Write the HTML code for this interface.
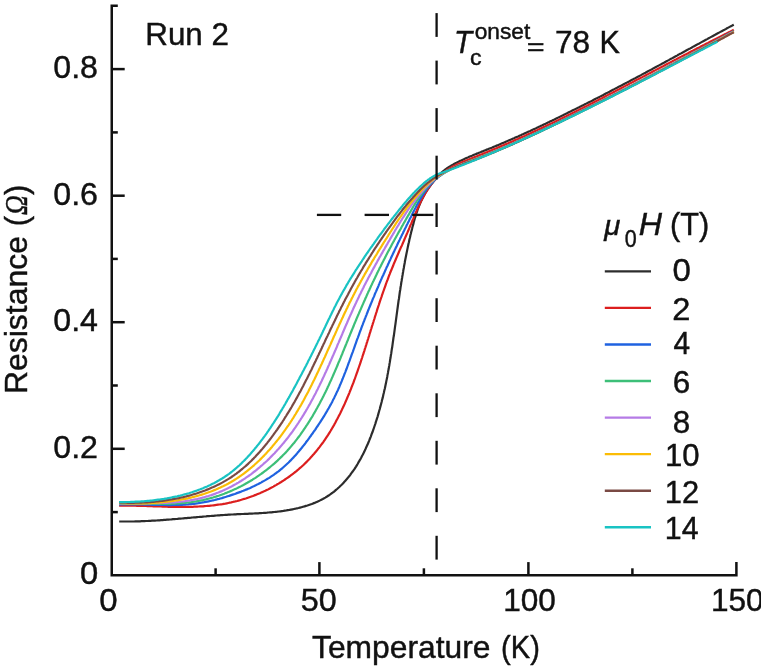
<!DOCTYPE html>
<html><head><meta charset="utf-8"><title>Resistance vs Temperature</title>
<style>
html,body{margin:0;padding:0;background:#fff;overflow:hidden}
svg{display:block}
text{font-family:"Liberation Sans","DejaVu Sans",sans-serif;fill:#111;stroke:#111;stroke-width:0.45px}
</style></head><body>
<svg width="761" height="668" viewBox="0 0 761 668">
<rect width="761" height="668" fill="#fff"/>
<g fill="none" stroke-width="2.2" stroke-linejoin="round" stroke-linecap="butt">
<path d="M119.2 521.5 L120.6 521.5 L122.1 521.5 L123.6 521.5 L125.1 521.5 L126.6 521.5 L128.1 521.5 L129.6 521.5 L131.0 521.5 L132.5 521.5 L134.0 521.5 L135.5 521.4 L137.0 521.4 L138.5 521.3 L140.0 521.3 L141.5 521.2 L143.0 521.2 L144.5 521.1 L146.0 521.0 L147.5 521.0 L149.0 520.9 L150.5 520.8 L152.0 520.7 L153.5 520.6 L155.0 520.6 L156.5 520.5 L158.0 520.4 L159.5 520.3 L161.0 520.2 L162.5 520.1 L164.0 519.9 L165.5 519.8 L167.0 519.7 L168.5 519.6 L170.0 519.5 L171.5 519.4 L173.0 519.2 L174.5 519.1 L176.0 519.0 L177.5 518.9 L179.0 518.7 L180.5 518.6 L182.0 518.5 L183.5 518.3 L185.0 518.2 L186.5 518.1 L188.0 517.9 L189.5 517.8 L191.0 517.7 L192.5 517.5 L194.0 517.4 L195.5 517.3 L197.0 517.1 L198.5 517.0 L200.0 516.9 L201.5 516.8 L203.0 516.6 L204.5 516.5 L206.0 516.4 L207.5 516.2 L209.0 516.1 L210.5 516.0 L212.0 515.9 L213.5 515.8 L215.0 515.6 L216.5 515.5 L217.9 515.4 L219.4 515.3 L220.9 515.2 L222.4 515.1 L223.9 515.0 L225.4 514.9 L226.9 514.8 L228.4 514.7 L229.9 514.6 L231.4 514.5 L232.9 514.5 L234.3 514.4 L235.8 514.3 L237.3 514.2 L238.8 514.2 L240.3 514.1 L241.8 514.0 L243.2 514.0 L244.7 513.9 L246.2 513.8 L247.7 513.8 L249.2 513.7 L250.7 513.6 L252.1 513.6 L253.6 513.5 L255.1 513.4 L256.6 513.3 L258.1 513.3 L259.6 513.2 L261.0 513.1 L262.5 513.0 L264.0 512.9 L265.5 512.8 L267.0 512.7 L268.5 512.5 L270.0 512.4 L271.5 512.3 L272.9 512.1 L274.4 512.0 L275.9 511.8 L277.4 511.7 L278.9 511.5 L280.4 511.3 L281.9 511.1 L283.4 510.9 L284.9 510.6 L286.4 510.4 L287.9 510.1 L289.4 509.9 L291.0 509.6 L292.5 509.3 L294.0 509.0 L295.5 508.7 L297.0 508.3 L298.5 508.0 L300.0 507.6 L301.5 507.2 L303.0 506.8 L304.5 506.4 L306.0 505.9 L307.4 505.5 L308.9 505.0 L310.3 504.5 L311.8 504.0 L313.2 503.4 L314.6 502.9 L316.0 502.3 L317.4 501.7 L318.8 501.1 L320.1 500.4 L321.4 499.7 L322.8 499.0 L324.1 498.3 L325.3 497.6 L326.6 496.8 L327.8 496.0 L329.1 495.2 L330.3 494.4 L331.4 493.5 L332.6 492.7 L333.8 491.8 L334.9 490.9 L336.0 489.9 L337.1 489.0 L338.2 488.0 L339.3 487.0 L340.3 486.0 L341.4 485.0 L342.4 484.0 L343.4 482.9 L344.4 481.8 L345.4 480.7 L346.4 479.6 L347.3 478.5 L348.2 477.4 L349.2 476.2 L350.1 475.1 L350.9 473.9 L351.8 472.7 L352.7 471.5 L353.5 470.3 L354.4 469.1 L355.2 467.8 L356.0 466.6 L356.8 465.3 L357.6 464.0 L358.3 462.7 L359.1 461.4 L359.8 460.1 L360.6 458.8 L361.3 457.5 L362.0 456.1 L362.7 454.8 L363.4 453.4 L364.1 452.1 L364.7 450.7 L365.4 449.3 L366.0 447.9 L366.6 446.5 L367.3 445.1 L367.9 443.7 L368.5 442.3 L369.1 440.9 L369.6 439.5 L370.2 438.0 L370.8 436.6 L371.3 435.2 L371.8 433.7 L372.4 432.3 L372.9 430.8 L373.4 429.4 L373.9 428.0 L374.4 426.5 L374.9 425.0 L375.4 423.6 L375.8 422.1 L376.3 420.7 L376.8 419.2 L377.2 417.8 L377.7 416.3 L378.1 414.9 L378.5 413.4 L378.9 412.0 L379.3 410.5 L379.8 409.0 L380.1 407.6 L380.5 406.1 L380.9 404.7 L381.3 403.2 L381.7 401.8 L382.0 400.3 L382.4 398.9 L382.8 397.4 L383.1 396.0 L383.4 394.5 L383.8 393.0 L384.1 391.6 L384.4 390.1 L384.8 388.7 L385.1 387.2 L385.4 385.8 L385.7 384.3 L386.0 382.9 L386.3 381.4 L386.6 379.9 L386.9 378.5 L387.2 377.0 L387.4 375.6 L387.7 374.1 L388.0 372.7 L388.2 371.2 L388.5 369.7 L388.8 368.3 L389.0 366.8 L389.3 365.4 L389.5 363.9 L389.8 362.4 L390.0 361.0 L390.2 359.5 L390.5 358.1 L390.7 356.6 L390.9 355.1 L391.2 353.7 L391.4 352.2 L391.6 350.7 L391.8 349.3 L392.1 347.8 L392.3 346.3 L392.5 344.9 L392.7 343.4 L392.9 341.9 L393.1 340.5 L393.3 339.0 L393.5 337.5 L393.8 336.1 L394.0 334.6 L394.2 333.1 L394.4 331.6 L394.6 330.2 L394.8 328.7 L395.0 327.2 L395.2 325.7 L395.4 324.3 L395.6 322.8 L395.8 321.3 L396.0 319.8 L396.2 318.3 L396.4 316.9 L396.6 315.4 L396.8 313.9 L397.0 312.4 L397.2 310.9 L397.4 309.4 L397.6 308.0 L397.8 306.5 L398.0 305.0 L398.2 303.5 L398.4 302.0 L398.6 300.5 L398.9 299.0 L399.1 297.5 L399.3 296.0 L399.5 294.5 L399.7 293.0 L399.9 291.5 L400.2 290.0 L400.4 288.5 L400.6 287.0 L400.9 285.5 L401.1 284.0 L401.3 282.5 L401.6 281.0 L401.8 279.5 L402.1 278.0 L402.3 276.5 L402.6 275.0 L402.8 273.5 L403.1 272.0 L403.3 270.5 L403.6 269.0 L403.9 267.5 L404.1 266.0 L404.4 264.5 L404.7 263.0 L404.9 261.5 L405.2 260.0 L405.5 258.5 L405.8 257.0 L406.1 255.5 L406.4 254.0 L406.7 252.6 L407.0 251.1 L407.3 249.6 L407.6 248.1 L407.9 246.6 L408.2 245.2 L408.5 243.7 L408.9 242.2 L409.2 240.8 L409.5 239.3 L409.9 237.8 L410.2 236.4 L410.5 234.9 L410.9 233.5 L411.2 232.0 L411.6 230.6 L412.0 229.1 L412.3 227.7 L412.7 226.3 L413.1 224.9 L413.5 223.4 L413.8 222.0 L414.2 220.6 L414.6 219.2 L415.0 217.8 L415.5 216.4 L415.9 215.0 L416.3 213.6 L416.8 212.2 L417.3 210.8 L417.7 209.5 L418.2 208.1 L418.8 206.7 L419.3 205.4 L419.9 204.0 L420.4 202.7 L421.0 201.3 L421.7 200.0 L422.3 198.7 L423.0 197.4 L423.7 196.1 L424.4 194.7 L425.1 193.4 L425.9 192.1 L426.7 190.9 L427.5 189.6 L428.4 188.3 L429.3 187.0 L430.2 185.8 L431.1 184.5 L432.0 183.3 L433.0 182.1 L433.9 180.9 L434.9 179.7 L436.0 178.5 L437.0 177.3 L438.0 176.2 L439.1 175.1 L440.2 174.0 L441.3 172.9 L442.4 171.9 L443.6 170.9 L444.7 170.0 L445.9 169.1 L447.1 168.2 L448.3 167.4 L449.5 166.6 L450.7 165.9 L452.0 165.1 L453.3 164.4 L454.5 163.7 L455.8 163.1 L457.1 162.4 L458.4 161.8 L459.7 161.1 L461.1 160.5 L462.4 159.9 L463.8 159.3 L465.1 158.6 L466.5 158.0 L467.9 157.4 L469.2 156.8 L470.6 156.2 L472.0 155.7 L473.4 155.1 L474.8 154.5 L476.2 153.9 L477.6 153.4 L479.0 152.8 L480.5 152.2 L481.9 151.6 L483.3 151.1 L484.7 150.5 L486.1 149.9 L487.5 149.4 L488.9 148.8 L490.4 148.2 L491.8 147.7 L493.2 147.1 L494.6 146.5 L496.0 145.9 L497.4 145.4 L498.8 144.8 L500.1 144.2 L501.5 143.6 L502.9 143.0 L504.3 142.4 L505.7 141.8 L507.1 141.2 L508.5 140.6 L509.8 140.0 L511.2 139.4 L512.6 138.8 L514.0 138.2 L515.3 137.6 L516.7 137.0 L518.1 136.4 L519.4 135.8 L520.8 135.2 L522.1 134.6 L523.5 134.0 L524.9 133.3 L526.2 132.7 L527.6 132.1 L528.9 131.5 L530.3 130.9 L531.6 130.2 L533.0 129.6 L534.3 129.0 L535.7 128.4 L537.0 127.7 L538.4 127.1 L539.7 126.5 L541.1 125.8 L542.4 125.2 L543.8 124.5 L545.1 123.9 L546.5 123.3 L547.8 122.6 L549.1 122.0 L550.5 121.3 L551.8 120.7 L553.2 120.0 L554.5 119.4 L555.8 118.7 L557.2 118.1 L558.5 117.4 L559.9 116.8 L561.2 116.1 L562.6 115.5 L563.9 114.8 L565.2 114.1 L566.6 113.5 L567.9 112.8 L569.3 112.1 L570.6 111.5 L571.9 110.8 L573.3 110.1 L574.6 109.5 L576.0 108.8 L577.3 108.1 L578.7 107.5 L580.0 106.8 L581.3 106.1 L582.7 105.4 L584.0 104.8 L585.4 104.1 L586.7 103.4 L588.0 102.7 L589.4 102.0 L590.7 101.4 L592.1 100.7 L593.4 100.0 L594.7 99.3 L596.1 98.6 L597.4 97.9 L598.8 97.3 L600.1 96.6 L601.4 95.9 L602.8 95.2 L604.1 94.5 L605.4 93.8 L606.8 93.1 L608.1 92.4 L609.5 91.7 L610.8 91.0 L612.1 90.3 L613.5 89.6 L614.8 88.9 L616.1 88.2 L617.5 87.5 L618.8 86.8 L620.1 86.1 L621.5 85.4 L622.8 84.7 L624.1 84.0 L625.5 83.3 L626.8 82.6 L628.1 81.9 L629.5 81.2 L630.8 80.5 L632.1 79.8 L633.4 79.1 L634.8 78.4 L636.1 77.7 L637.4 77.0 L638.8 76.3 L640.1 75.6 L641.4 74.9 L642.7 74.1 L644.0 73.4 L645.4 72.7 L646.7 72.0 L648.0 71.3 L649.3 70.6 L650.7 69.9 L652.0 69.2 L653.3 68.4 L654.6 67.7 L655.9 67.0 L657.3 66.3 L658.6 65.6 L659.9 64.9 L661.2 64.2 L662.5 63.4 L663.9 62.7 L665.2 62.0 L666.5 61.3 L667.8 60.6 L669.1 59.9 L670.4 59.1 L671.8 58.4 L673.1 57.7 L674.4 57.0 L675.7 56.3 L677.0 55.6 L678.3 54.8 L679.6 54.1 L681.0 53.4 L682.3 52.7 L683.6 52.0 L684.9 51.3 L686.2 50.5 L687.5 49.8 L688.8 49.1 L690.2 48.4 L691.5 47.7 L692.8 46.9 L694.1 46.2 L695.4 45.5 L696.7 44.8 L698.0 44.1 L699.4 43.4 L700.7 42.6 L702.0 41.9 L703.3 41.2 L704.6 40.5 L705.9 39.8 L707.2 39.1 L708.6 38.3 L709.9 37.6 L711.2 36.9 L712.5 36.2 L713.8 35.5 L715.1 34.8 L716.5 34.0 L717.8 33.3 L719.1 32.6 L720.4 31.9 L721.7 31.2 L723.0 30.5 L724.4 29.8 L725.7 29.1 L727.0 28.3 L728.3 27.6 L729.6 26.9 L730.9 26.2 L732.3 25.5 L733.6 24.8 L733.8 24.7" stroke="#2c2c2c"/>
<path d="M119.1 505.6 L120.6 505.6 L122.1 505.6 L123.6 505.6 L125.1 505.6 L126.5 505.6 L128.0 505.6 L129.5 505.6 L131.0 505.6 L132.5 505.7 L134.0 505.7 L135.5 505.7 L137.0 505.8 L138.5 505.8 L140.0 505.9 L141.5 505.9 L143.0 505.9 L144.5 506.0 L146.0 506.0 L147.5 506.1 L149.0 506.1 L150.5 506.2 L152.0 506.2 L153.5 506.3 L155.0 506.3 L156.5 506.4 L158.0 506.4 L159.5 506.5 L161.0 506.5 L162.5 506.6 L164.0 506.6 L165.5 506.7 L167.0 506.7 L168.6 506.8 L170.1 506.8 L171.6 506.8 L173.1 506.8 L174.6 506.9 L176.1 506.9 L177.6 506.9 L179.1 506.9 L180.6 506.9 L182.1 506.9 L183.6 506.9 L185.1 506.9 L186.6 506.9 L188.1 506.9 L189.6 506.8 L191.1 506.8 L192.7 506.8 L194.2 506.7 L195.7 506.7 L197.2 506.6 L198.7 506.5 L200.1 506.4 L201.6 506.4 L203.1 506.3 L204.6 506.1 L206.1 506.0 L207.6 505.9 L209.1 505.8 L210.6 505.6 L212.1 505.5 L213.6 505.3 L215.1 505.1 L216.5 504.9 L218.0 504.7 L219.5 504.5 L221.0 504.3 L222.5 504.1 L223.9 503.8 L225.4 503.6 L226.9 503.3 L228.3 503.0 L229.8 502.7 L231.3 502.4 L232.7 502.0 L234.2 501.7 L235.6 501.3 L237.1 501.0 L238.5 500.6 L240.0 500.2 L241.4 499.8 L242.9 499.3 L244.3 498.9 L245.8 498.5 L247.2 498.0 L248.6 497.5 L250.0 497.0 L251.4 496.5 L252.9 496.0 L254.3 495.4 L255.7 494.9 L257.1 494.3 L258.5 493.7 L259.9 493.2 L261.2 492.6 L262.6 491.9 L264.0 491.3 L265.3 490.7 L266.7 490.0 L268.1 489.4 L269.4 488.7 L270.7 488.0 L272.1 487.3 L273.4 486.6 L274.7 485.8 L276.0 485.1 L277.3 484.3 L278.6 483.6 L279.9 482.8 L281.2 482.0 L282.4 481.2 L283.7 480.4 L285.0 479.5 L286.2 478.7 L287.4 477.9 L288.7 477.0 L289.9 476.1 L291.1 475.2 L292.3 474.3 L293.5 473.4 L294.6 472.5 L295.8 471.6 L297.0 470.6 L298.1 469.7 L299.2 468.7 L300.4 467.7 L301.5 466.7 L302.6 465.7 L303.7 464.7 L304.7 463.7 L305.8 462.6 L306.9 461.6 L307.9 460.5 L308.9 459.5 L309.9 458.4 L310.9 457.3 L311.9 456.2 L312.9 455.1 L313.9 454.0 L314.9 452.8 L315.8 451.7 L316.8 450.6 L317.7 449.4 L318.6 448.2 L319.5 447.1 L320.4 445.9 L321.3 444.7 L322.2 443.5 L323.1 442.3 L323.9 441.1 L324.8 439.8 L325.6 438.6 L326.4 437.4 L327.3 436.1 L328.1 434.9 L328.9 433.6 L329.7 432.3 L330.5 431.0 L331.2 429.8 L332.0 428.5 L332.8 427.2 L333.5 425.9 L334.3 424.6 L335.0 423.3 L335.7 421.9 L336.4 420.6 L337.1 419.3 L337.8 417.9 L338.5 416.6 L339.2 415.2 L339.9 413.9 L340.6 412.5 L341.2 411.2 L341.9 409.8 L342.5 408.4 L343.2 407.1 L343.8 405.7 L344.5 404.3 L345.1 402.9 L345.7 401.5 L346.3 400.1 L346.9 398.7 L347.5 397.3 L348.1 395.9 L348.7 394.5 L349.3 393.1 L349.8 391.7 L350.4 390.3 L351.0 388.9 L351.5 387.4 L352.1 386.0 L352.6 384.6 L353.2 383.2 L353.7 381.8 L354.2 380.3 L354.8 378.9 L355.3 377.5 L355.8 376.0 L356.3 374.6 L356.8 373.2 L357.3 371.8 L357.8 370.3 L358.3 368.9 L358.8 367.5 L359.3 366.0 L359.8 364.6 L360.3 363.2 L360.8 361.7 L361.2 360.3 L361.7 358.9 L362.2 357.5 L362.6 356.0 L363.1 354.6 L363.6 353.2 L364.0 351.8 L364.5 350.3 L364.9 348.9 L365.4 347.5 L365.8 346.1 L366.3 344.6 L366.7 343.2 L367.2 341.8 L367.6 340.4 L368.1 339.0 L368.5 337.5 L369.0 336.1 L369.4 334.7 L369.8 333.3 L370.3 331.9 L370.7 330.4 L371.2 329.0 L371.6 327.6 L372.0 326.2 L372.5 324.8 L372.9 323.4 L373.4 322.0 L373.8 320.5 L374.3 319.1 L374.7 317.7 L375.1 316.3 L375.6 314.9 L376.0 313.5 L376.5 312.1 L376.9 310.7 L377.4 309.2 L377.8 307.8 L378.3 306.4 L378.8 305.0 L379.2 303.6 L379.7 302.2 L380.1 300.8 L380.6 299.4 L381.1 298.0 L381.6 296.6 L382.0 295.2 L382.5 293.8 L383.0 292.4 L383.5 291.0 L384.0 289.6 L384.5 288.2 L385.0 286.8 L385.5 285.3 L386.0 283.9 L386.5 282.5 L387.0 281.1 L387.6 279.7 L388.1 278.3 L388.6 276.9 L389.1 275.5 L389.7 274.1 L390.2 272.7 L390.8 271.3 L391.4 270.0 L391.9 268.6 L392.5 267.2 L393.1 265.8 L393.6 264.4 L394.2 263.0 L394.8 261.6 L395.4 260.2 L396.0 258.8 L396.6 257.4 L397.2 256.0 L397.8 254.6 L398.4 253.2 L399.0 251.8 L399.6 250.4 L400.2 249.0 L400.8 247.6 L401.5 246.2 L402.1 244.9 L402.7 243.5 L403.3 242.1 L403.9 240.7 L404.5 239.3 L405.1 237.9 L405.7 236.5 L406.3 235.1 L406.9 233.7 L407.5 232.4 L408.1 231.0 L408.7 229.6 L409.3 228.2 L409.8 226.8 L410.4 225.4 L411.0 224.1 L411.6 222.7 L412.2 221.3 L412.7 219.9 L413.3 218.6 L413.9 217.2 L414.4 215.8 L415.0 214.5 L415.6 213.1 L416.2 211.7 L416.8 210.4 L417.4 209.0 L417.9 207.7 L418.6 206.3 L419.2 205.0 L419.8 203.7 L420.4 202.3 L421.1 201.0 L421.8 199.7 L422.4 198.4 L423.1 197.1 L423.9 195.8 L424.6 194.4 L425.3 193.2 L426.1 191.9 L426.9 190.6 L427.7 189.3 L428.6 188.1 L429.4 186.8 L430.3 185.6 L431.2 184.4 L432.2 183.2 L433.1 182.1 L434.1 180.9 L435.1 179.8 L436.2 178.7 L437.2 177.7 L438.3 176.7 L439.4 175.7 L440.5 174.7 L441.7 173.8 L442.9 172.9 L444.1 172.0 L445.3 171.1 L446.5 170.3 L447.8 169.5 L449.0 168.7 L450.3 168.0 L451.6 167.2 L452.9 166.5 L454.3 165.8 L455.6 165.2 L456.9 164.5 L458.3 163.9 L459.7 163.3 L461.0 162.7 L462.4 162.1 L463.8 161.5 L465.2 160.9 L466.6 160.4 L468.0 159.8 L469.4 159.3 L470.8 158.7 L472.2 158.1 L473.5 157.6 L474.9 157.0 L476.3 156.5 L477.7 155.9 L479.1 155.3 L480.5 154.8 L481.9 154.2 L483.3 153.6 L484.7 153.1 L486.1 152.5 L487.5 151.9 L488.9 151.3 L490.3 150.8 L491.6 150.2 L493.0 149.6 L494.4 149.0 L495.8 148.5 L497.2 147.9 L498.6 147.3 L500.0 146.7 L501.3 146.1 L502.7 145.5 L504.1 144.9 L505.5 144.3 L506.9 143.7 L508.3 143.2 L509.6 142.6 L511.0 142.0 L512.4 141.4 L513.8 140.7 L515.1 140.1 L516.5 139.5 L517.9 138.9 L519.2 138.3 L520.6 137.7 L522.0 137.1 L523.4 136.5 L524.7 135.9 L526.1 135.2 L527.5 134.6 L528.8 134.0 L530.2 133.4 L531.5 132.7 L532.9 132.1 L534.3 131.5 L535.6 130.8 L537.0 130.2 L538.3 129.6 L539.7 128.9 L541.1 128.3 L542.4 127.7 L543.8 127.0 L545.1 126.4 L546.5 125.7 L547.8 125.1 L549.2 124.4 L550.5 123.8 L551.9 123.2 L553.2 122.5 L554.6 121.9 L555.9 121.2 L557.3 120.5 L558.6 119.9 L560.0 119.2 L561.3 118.6 L562.7 117.9 L564.0 117.3 L565.4 116.6 L566.7 115.9 L568.0 115.3 L569.4 114.6 L570.7 113.9 L572.1 113.3 L573.4 112.6 L574.7 111.9 L576.1 111.3 L577.4 110.6 L578.8 109.9 L580.1 109.2 L581.4 108.6 L582.8 107.9 L584.1 107.2 L585.4 106.5 L586.8 105.9 L588.1 105.2 L589.5 104.5 L590.8 103.8 L592.1 103.2 L593.5 102.5 L594.8 101.8 L596.1 101.1 L597.5 100.4 L598.8 99.7 L600.1 99.0 L601.5 98.4 L602.8 97.7 L604.1 97.0 L605.5 96.3 L606.8 95.6 L608.1 94.9 L609.4 94.2 L610.8 93.5 L612.1 92.9 L613.4 92.2 L614.8 91.5 L616.1 90.8 L617.4 90.1 L618.8 89.4 L620.1 88.7 L621.4 88.0 L622.8 87.3 L624.1 86.6 L625.4 85.9 L626.7 85.2 L628.1 84.5 L629.4 83.8 L630.7 83.1 L632.1 82.4 L633.4 81.7 L634.7 81.0 L636.0 80.3 L637.4 79.6 L638.7 78.9 L640.0 78.3 L641.4 77.6 L642.7 76.9 L644.0 76.2 L645.4 75.5 L646.7 74.8 L648.0 74.1 L649.3 73.4 L650.7 72.7 L652.0 72.0 L653.3 71.3 L654.7 70.6 L656.0 69.9 L657.3 69.2 L658.7 68.5 L660.0 67.8 L661.3 67.1 L662.7 66.4 L664.0 65.7 L665.3 65.0 L666.6 64.3 L668.0 63.6 L669.3 62.9 L670.6 62.2 L672.0 61.5 L673.3 60.8 L674.6 60.1 L676.0 59.4 L677.3 58.7 L678.6 58.0 L680.0 57.3 L681.3 56.6 L682.6 55.9 L684.0 55.2 L685.3 54.6 L686.6 53.9 L688.0 53.2 L689.3 52.5 L690.6 51.8 L692.0 51.1 L693.3 50.4 L694.6 49.7 L696.0 49.0 L697.3 48.3 L698.6 47.7 L700.0 47.0 L701.3 46.3 L702.6 45.6 L704.0 44.9 L705.3 44.2 L706.6 43.5 L708.0 42.9 L709.3 42.2 L710.6 41.5 L712.0 40.8 L713.3 40.1 L714.6 39.5 L716.0 38.8 L717.3 38.1 L718.6 37.4 L720.0 36.8 L721.3 36.1 L722.6 35.4 L724.0 34.7 L725.3 34.1 L726.6 33.4 L728.0 32.7 L729.3 32.1 L730.6 31.4 L732.0 30.7 L733.3 30.1 L733.8 29.8" stroke="#dc1e1e"/>
<path d="M119.1 504.6 L120.6 504.5 L122.1 504.5 L123.6 504.5 L125.1 504.4 L126.6 504.4 L128.1 504.4 L129.6 504.4 L131.1 504.4 L132.6 504.4 L134.1 504.4 L135.6 504.4 L137.1 504.4 L138.6 504.4 L140.1 504.5 L141.6 504.5 L143.1 504.5 L144.6 504.6 L146.1 504.6 L147.6 504.7 L149.1 504.7 L150.6 504.7 L152.1 504.8 L153.6 504.8 L155.1 504.9 L156.6 504.9 L158.1 504.9 L159.6 505.0 L161.1 505.0 L162.6 505.0 L164.1 505.0 L165.6 505.0 L167.1 505.1 L168.6 505.1 L170.1 505.1 L171.6 505.1 L173.1 505.0 L174.6 505.0 L176.1 505.0 L177.6 504.9 L179.1 504.9 L180.6 504.8 L182.1 504.8 L183.6 504.7 L185.1 504.6 L186.6 504.5 L188.1 504.4 L189.5 504.2 L191.0 504.1 L192.5 503.9 L194.0 503.8 L195.5 503.6 L197.0 503.4 L198.4 503.2 L199.9 502.9 L201.4 502.7 L202.9 502.4 L204.3 502.2 L205.8 501.9 L207.3 501.6 L208.7 501.3 L210.2 501.0 L211.7 500.7 L213.1 500.3 L214.6 500.0 L216.0 499.6 L217.5 499.2 L219.0 498.9 L220.4 498.5 L221.9 498.1 L223.3 497.6 L224.7 497.2 L226.2 496.8 L227.6 496.3 L229.1 495.9 L230.5 495.4 L231.9 494.9 L233.4 494.4 L234.8 494.0 L236.2 493.4 L237.6 492.9 L239.1 492.4 L240.5 491.9 L241.9 491.3 L243.3 490.8 L244.7 490.2 L246.1 489.6 L247.5 489.1 L248.9 488.5 L250.2 487.9 L251.6 487.2 L253.0 486.6 L254.3 486.0 L255.7 485.3 L257.0 484.6 L258.4 484.0 L259.7 483.3 L261.0 482.6 L262.3 481.8 L263.6 481.1 L264.9 480.4 L266.2 479.6 L267.5 478.8 L268.8 478.1 L270.0 477.3 L271.3 476.4 L272.5 475.6 L273.7 474.8 L274.9 473.9 L276.2 473.0 L277.3 472.2 L278.5 471.3 L279.7 470.3 L280.8 469.4 L282.0 468.5 L283.1 467.5 L284.2 466.5 L285.3 465.5 L286.4 464.5 L287.5 463.5 L288.6 462.5 L289.6 461.4 L290.7 460.4 L291.7 459.3 L292.7 458.2 L293.8 457.1 L294.8 456.0 L295.8 454.9 L296.8 453.8 L297.7 452.6 L298.7 451.5 L299.7 450.3 L300.6 449.2 L301.6 448.0 L302.5 446.8 L303.5 445.6 L304.4 444.5 L305.3 443.3 L306.2 442.0 L307.2 440.8 L308.1 439.6 L309.0 438.4 L309.8 437.2 L310.7 436.0 L311.6 434.7 L312.5 433.5 L313.4 432.2 L314.2 431.0 L315.1 429.8 L316.0 428.5 L316.8 427.2 L317.7 426.0 L318.5 424.7 L319.3 423.5 L320.2 422.2 L321.0 420.9 L321.8 419.6 L322.6 418.4 L323.4 417.1 L324.2 415.8 L325.0 414.5 L325.8 413.2 L326.5 411.9 L327.3 410.6 L328.0 409.3 L328.8 408.0 L329.5 406.7 L330.2 405.4 L331.0 404.1 L331.7 402.8 L332.4 401.4 L333.0 400.1 L333.7 398.8 L334.4 397.4 L335.0 396.1 L335.7 394.8 L336.3 393.4 L336.9 392.1 L337.6 390.7 L338.2 389.4 L338.8 388.0 L339.4 386.7 L339.9 385.3 L340.5 384.0 L341.1 382.6 L341.7 381.2 L342.2 379.8 L342.8 378.5 L343.3 377.1 L343.9 375.7 L344.4 374.3 L345.0 372.9 L345.5 371.6 L346.0 370.2 L346.6 368.8 L347.1 367.4 L347.6 366.0 L348.1 364.6 L348.6 363.2 L349.2 361.7 L349.7 360.3 L350.2 358.9 L350.7 357.5 L351.2 356.1 L351.7 354.7 L352.2 353.3 L352.8 351.8 L353.3 350.4 L353.8 349.0 L354.3 347.6 L354.8 346.1 L355.3 344.7 L355.8 343.3 L356.3 341.9 L356.8 340.4 L357.3 339.0 L357.9 337.6 L358.4 336.2 L358.9 334.8 L359.4 333.3 L359.9 331.9 L360.5 330.5 L361.0 329.1 L361.5 327.7 L362.0 326.3 L362.6 324.9 L363.1 323.5 L363.6 322.1 L364.2 320.7 L364.7 319.3 L365.3 317.9 L365.8 316.5 L366.4 315.1 L366.9 313.7 L367.5 312.3 L368.0 310.9 L368.6 309.5 L369.1 308.1 L369.7 306.7 L370.3 305.3 L370.8 304.0 L371.4 302.6 L372.0 301.2 L372.5 299.8 L373.1 298.4 L373.7 297.1 L374.3 295.7 L374.8 294.3 L375.4 292.9 L376.0 291.6 L376.6 290.2 L377.2 288.8 L377.8 287.5 L378.4 286.1 L378.9 284.7 L379.5 283.4 L380.1 282.0 L380.7 280.6 L381.3 279.3 L381.9 277.9 L382.5 276.5 L383.2 275.2 L383.8 273.8 L384.4 272.5 L385.0 271.1 L385.6 269.7 L386.2 268.4 L386.8 267.0 L387.5 265.7 L388.1 264.3 L388.7 263.0 L389.3 261.6 L390.0 260.2 L390.6 258.9 L391.2 257.5 L391.8 256.2 L392.5 254.8 L393.1 253.5 L393.8 252.1 L394.4 250.8 L395.0 249.4 L395.7 248.1 L396.3 246.7 L397.0 245.4 L397.6 244.0 L398.3 242.6 L398.9 241.3 L399.6 239.9 L400.2 238.6 L400.9 237.2 L401.5 235.9 L402.2 234.5 L402.9 233.2 L403.5 231.8 L404.2 230.5 L404.8 229.1 L405.5 227.8 L406.2 226.4 L406.8 225.0 L407.5 223.7 L408.2 222.3 L408.9 221.0 L409.5 219.6 L410.2 218.2 L410.9 216.9 L411.6 215.5 L412.2 214.2 L412.9 212.8 L413.6 211.4 L414.3 210.1 L415.0 208.7 L415.7 207.4 L416.4 206.0 L417.1 204.7 L417.8 203.4 L418.6 202.0 L419.3 200.7 L420.0 199.4 L420.8 198.1 L421.6 196.8 L422.4 195.5 L423.2 194.3 L424.0 193.0 L424.8 191.8 L425.7 190.6 L426.5 189.4 L427.4 188.2 L428.3 187.0 L429.3 185.9 L430.2 184.8 L431.2 183.7 L432.2 182.6 L433.2 181.6 L434.2 180.5 L435.3 179.5 L436.4 178.6 L437.5 177.6 L438.7 176.7 L439.9 175.8 L441.1 175.0 L442.3 174.1 L443.6 173.3 L444.8 172.5 L446.1 171.8 L447.4 171.0 L448.7 170.3 L450.1 169.6 L451.4 168.9 L452.7 168.3 L454.1 167.6 L455.5 167.0 L456.8 166.4 L458.2 165.8 L459.6 165.2 L461.0 164.7 L462.4 164.1 L463.8 163.6 L465.2 163.0 L466.6 162.5 L467.9 161.9 L469.3 161.4 L470.8 160.9 L472.2 160.3 L473.6 159.8 L475.0 159.2 L476.4 158.7 L477.8 158.1 L479.2 157.6 L480.6 157.0 L482.0 156.5 L483.4 155.9 L484.8 155.4 L486.2 154.8 L487.6 154.2 L489.0 153.7 L490.4 153.1 L491.8 152.5 L493.2 151.9 L494.6 151.4 L496.0 150.8 L497.4 150.2 L498.8 149.6 L500.2 149.0 L501.6 148.4 L502.9 147.8 L504.3 147.2 L505.7 146.6 L507.1 146.0 L508.4 145.4 L509.8 144.8 L511.2 144.2 L512.6 143.6 L513.9 143.0 L515.3 142.4 L516.7 141.8 L518.0 141.2 L519.4 140.6 L520.8 139.9 L522.1 139.3 L523.5 138.7 L524.8 138.1 L526.2 137.5 L527.6 136.8 L528.9 136.2 L530.3 135.6 L531.6 135.0 L533.0 134.3 L534.4 133.7 L535.7 133.1 L537.1 132.4 L538.4 131.8 L539.8 131.2 L541.1 130.5 L542.5 129.9 L543.8 129.2 L545.2 128.6 L546.5 128.0 L547.9 127.3 L549.2 126.7 L550.6 126.0 L551.9 125.4 L553.3 124.7 L554.7 124.1 L556.0 123.4 L557.4 122.8 L558.7 122.1 L560.0 121.5 L561.4 120.8 L562.7 120.2 L564.1 119.5 L565.4 118.9 L566.8 118.2 L568.1 117.6 L569.5 116.9 L570.8 116.2 L572.2 115.6 L573.5 114.9 L574.9 114.3 L576.2 113.6 L577.6 112.9 L578.9 112.3 L580.2 111.6 L581.6 110.9 L582.9 110.3 L584.3 109.6 L585.6 108.9 L587.0 108.3 L588.3 107.6 L589.6 106.9 L591.0 106.3 L592.3 105.6 L593.7 104.9 L595.0 104.2 L596.3 103.6 L597.7 102.9 L599.0 102.2 L600.4 101.5 L601.7 100.9 L603.0 100.2 L604.4 99.5 L605.7 98.8 L607.1 98.2 L608.4 97.5 L609.7 96.8 L611.1 96.1 L612.4 95.4 L613.7 94.7 L615.1 94.1 L616.4 93.4 L617.7 92.7 L619.1 92.0 L620.4 91.3 L621.7 90.6 L623.1 89.9 L624.4 89.3 L625.7 88.6 L627.1 87.9 L628.4 87.2 L629.7 86.5 L631.1 85.8 L632.4 85.1 L633.7 84.4 L635.1 83.7 L636.4 83.0 L637.7 82.3 L639.1 81.6 L640.4 80.9 L641.7 80.3 L643.1 79.6 L644.4 78.9 L645.7 78.2 L647.0 77.5 L648.4 76.8 L649.7 76.1 L651.0 75.4 L652.4 74.7 L653.7 74.0 L655.0 73.3 L656.3 72.6 L657.7 71.9 L659.0 71.2 L660.3 70.5 L661.7 69.8 L663.0 69.1 L664.3 68.4 L665.6 67.7 L667.0 67.0 L668.3 66.3 L669.6 65.5 L670.9 64.8 L672.3 64.1 L673.6 63.4 L674.9 62.7 L676.2 62.0 L677.6 61.3 L678.9 60.6 L680.2 59.9 L681.5 59.2 L682.9 58.5 L684.2 57.8 L685.5 57.1 L686.8 56.4 L688.1 55.7 L689.5 54.9 L690.8 54.2 L692.1 53.5 L693.4 52.8 L694.8 52.1 L696.1 51.4 L697.4 50.7 L698.7 50.0 L700.0 49.3 L701.4 48.6 L702.7 47.9 L704.0 47.1 L705.3 46.4 L706.6 45.7 L708.0 45.0 L709.3 44.3 L710.6 43.6 L711.9 42.9 L713.2 42.2 L714.6 41.5 L715.9 40.7 L717.2 40.0 L718.5 39.3 L719.8 38.6 L721.1 37.9 L722.5 37.2 L723.8 36.5 L725.1 35.8 L726.4 35.0 L727.7 34.3 L729.1 33.6 L730.4 32.9 L731.7 32.2 L733.0 31.5 L733.7 31.1" stroke="#1f62e0"/>
<path d="M119.1 504.1 L120.5 504.0 L122.0 504.0 L123.5 503.9 L125.0 503.9 L126.5 503.8 L128.0 503.8 L129.5 503.8 L131.0 503.8 L132.5 503.8 L134.0 503.8 L135.5 503.8 L137.0 503.8 L138.5 503.8 L140.0 503.8 L141.5 503.8 L143.0 503.8 L144.5 503.8 L146.0 503.8 L147.5 503.8 L149.0 503.9 L150.6 503.9 L152.1 503.9 L153.6 503.9 L155.1 503.9 L156.6 503.9 L158.1 503.9 L159.6 503.9 L161.1 503.9 L162.6 503.9 L164.2 503.9 L165.7 503.9 L167.2 503.8 L168.7 503.8 L170.2 503.8 L171.7 503.7 L173.2 503.7 L174.7 503.6 L176.2 503.5 L177.7 503.4 L179.2 503.3 L180.7 503.2 L182.2 503.1 L183.7 503.0 L185.2 502.9 L186.7 502.7 L188.1 502.5 L189.6 502.3 L191.1 502.2 L192.6 501.9 L194.1 501.7 L195.5 501.5 L197.0 501.2 L198.5 501.0 L200.0 500.7 L201.4 500.4 L202.9 500.1 L204.3 499.7 L205.8 499.4 L207.2 499.0 L208.7 498.7 L210.1 498.3 L211.6 497.9 L213.0 497.5 L214.4 497.0 L215.9 496.6 L217.3 496.1 L218.7 495.7 L220.1 495.2 L221.5 494.7 L222.9 494.2 L224.3 493.7 L225.7 493.1 L227.1 492.6 L228.5 492.0 L229.9 491.4 L231.3 490.9 L232.6 490.2 L234.0 489.6 L235.3 489.0 L236.7 488.4 L238.0 487.7 L239.4 487.0 L240.7 486.4 L242.0 485.7 L243.4 485.0 L244.7 484.3 L246.0 483.5 L247.3 482.8 L248.6 482.0 L249.9 481.3 L251.2 480.5 L252.5 479.7 L253.7 478.9 L255.0 478.1 L256.2 477.3 L257.5 476.4 L258.7 475.6 L260.0 474.7 L261.2 473.9 L262.4 473.0 L263.6 472.1 L264.8 471.2 L266.0 470.3 L267.2 469.4 L268.4 468.4 L269.6 467.5 L270.7 466.5 L271.9 465.5 L273.0 464.6 L274.2 463.6 L275.3 462.6 L276.4 461.6 L277.5 460.6 L278.6 459.5 L279.7 458.5 L280.8 457.4 L281.9 456.4 L282.9 455.3 L284.0 454.2 L285.0 453.2 L286.1 452.1 L287.1 451.0 L288.1 449.8 L289.1 448.7 L290.1 447.6 L291.1 446.4 L292.0 445.3 L293.0 444.1 L294.0 443.0 L294.9 441.8 L295.8 440.6 L296.8 439.4 L297.7 438.2 L298.6 437.0 L299.5 435.8 L300.4 434.6 L301.2 433.4 L302.1 432.1 L303.0 430.9 L303.8 429.7 L304.7 428.4 L305.5 427.2 L306.3 425.9 L307.2 424.7 L308.0 423.4 L308.8 422.1 L309.6 420.9 L310.3 419.6 L311.1 418.3 L311.9 417.1 L312.7 415.8 L313.4 414.5 L314.2 413.2 L314.9 411.9 L315.7 410.6 L316.4 409.3 L317.1 408.1 L317.8 406.8 L318.5 405.5 L319.3 404.1 L320.0 402.8 L320.6 401.5 L321.3 400.2 L322.0 398.9 L322.7 397.6 L323.4 396.2 L324.0 394.9 L324.7 393.6 L325.4 392.2 L326.0 390.9 L326.7 389.5 L327.3 388.2 L327.9 386.8 L328.6 385.5 L329.2 384.1 L329.8 382.7 L330.4 381.4 L331.1 380.0 L331.7 378.6 L332.3 377.3 L332.9 375.9 L333.5 374.5 L334.1 373.1 L334.7 371.8 L335.3 370.4 L335.9 369.0 L336.5 367.6 L337.1 366.2 L337.7 364.8 L338.2 363.4 L338.8 362.0 L339.4 360.7 L340.0 359.3 L340.6 357.9 L341.1 356.5 L341.7 355.1 L342.3 353.7 L342.8 352.3 L343.4 350.9 L344.0 349.5 L344.5 348.1 L345.1 346.7 L345.7 345.3 L346.3 343.9 L346.8 342.5 L347.4 341.1 L348.0 339.7 L348.5 338.3 L349.1 336.9 L349.7 335.5 L350.2 334.1 L350.8 332.7 L351.4 331.3 L351.9 330.0 L352.5 328.6 L353.1 327.2 L353.7 325.8 L354.2 324.4 L354.8 323.0 L355.4 321.6 L356.0 320.3 L356.5 318.9 L357.1 317.5 L357.7 316.1 L358.3 314.7 L358.9 313.4 L359.5 312.0 L360.1 310.6 L360.7 309.3 L361.3 307.9 L361.9 306.5 L362.5 305.1 L363.1 303.8 L363.7 302.4 L364.3 301.0 L364.9 299.7 L365.5 298.3 L366.1 297.0 L366.7 295.6 L367.3 294.2 L367.9 292.9 L368.5 291.5 L369.2 290.2 L369.8 288.8 L370.4 287.5 L371.0 286.1 L371.7 284.8 L372.3 283.4 L372.9 282.1 L373.6 280.7 L374.2 279.4 L374.9 278.0 L375.5 276.7 L376.2 275.3 L376.8 274.0 L377.5 272.6 L378.1 271.3 L378.8 269.9 L379.4 268.6 L380.1 267.3 L380.8 265.9 L381.5 264.6 L382.1 263.2 L382.8 261.9 L383.5 260.6 L384.2 259.2 L384.9 257.9 L385.6 256.6 L386.2 255.2 L386.9 253.9 L387.6 252.6 L388.3 251.3 L389.1 249.9 L389.8 248.6 L390.5 247.3 L391.2 245.9 L391.9 244.6 L392.6 243.3 L393.3 242.0 L394.1 240.6 L394.8 239.3 L395.5 238.0 L396.2 236.7 L397.0 235.3 L397.7 234.0 L398.4 232.7 L399.2 231.4 L399.9 230.1 L400.7 228.8 L401.4 227.4 L402.1 226.1 L402.9 224.8 L403.6 223.5 L404.4 222.2 L405.1 220.9 L405.9 219.5 L406.6 218.2 L407.4 216.9 L408.1 215.6 L408.9 214.3 L409.6 213.0 L410.4 211.7 L411.1 210.4 L411.9 209.1 L412.6 207.8 L413.4 206.5 L414.2 205.2 L415.0 203.9 L415.8 202.6 L416.6 201.3 L417.4 200.1 L418.2 198.8 L419.0 197.6 L419.9 196.4 L420.7 195.1 L421.6 193.9 L422.4 192.7 L423.3 191.6 L424.3 190.4 L425.2 189.3 L426.1 188.1 L427.1 187.0 L428.1 185.9 L429.1 184.8 L430.1 183.8 L431.1 182.8 L432.2 181.7 L433.3 180.8 L434.4 179.8 L435.5 178.8 L436.7 177.9 L437.9 177.0 L439.1 176.2 L440.4 175.3 L441.6 174.5 L442.9 173.7 L444.2 172.9 L445.5 172.2 L446.8 171.4 L448.2 170.7 L449.5 170.0 L450.9 169.3 L452.3 168.6 L453.6 168.0 L455.0 167.4 L456.4 166.7 L457.8 166.1 L459.2 165.5 L460.5 164.9 L461.9 164.3 L463.3 163.7 L464.7 163.2 L466.1 162.6 L467.5 162.0 L468.8 161.5 L470.2 160.9 L471.6 160.4 L473.0 159.9 L474.4 159.3 L475.8 158.8 L477.1 158.3 L478.5 157.8 L479.9 157.2 L481.3 156.7 L482.7 156.2 L484.1 155.6 L485.4 155.1 L486.8 154.6 L488.2 154.0 L489.6 153.5 L491.0 153.0 L492.4 152.4 L493.7 151.9 L495.1 151.3 L496.5 150.7 L497.9 150.2 L499.3 149.6 L500.6 149.0 L502.0 148.4 L503.4 147.8 L504.8 147.3 L506.2 146.7 L507.5 146.1 L508.9 145.5 L510.3 144.9 L511.7 144.3 L513.1 143.7 L514.4 143.0 L515.8 142.4 L517.2 141.8 L518.6 141.2 L519.9 140.6 L521.3 139.9 L522.7 139.3 L524.1 138.7 L525.4 138.1 L526.8 137.4 L528.2 136.8 L529.6 136.2 L530.9 135.5 L532.3 134.9 L533.7 134.2 L535.0 133.6 L536.4 133.0 L537.8 132.3 L539.1 131.7 L540.5 131.0 L541.9 130.4 L543.2 129.8 L544.6 129.1 L545.9 128.5 L547.3 127.8 L548.7 127.2 L550.0 126.5 L551.4 125.9 L552.7 125.2 L554.1 124.6 L555.5 123.9 L556.8 123.3 L558.2 122.6 L559.5 122.0 L560.9 121.3 L562.2 120.6 L563.6 120.0 L564.9 119.3 L566.3 118.7 L567.6 118.0 L569.0 117.4 L570.3 116.7 L571.7 116.0 L573.0 115.4 L574.4 114.7 L575.7 114.1 L577.1 113.4 L578.4 112.7 L579.8 112.1 L581.1 111.4 L582.4 110.7 L583.8 110.1 L585.1 109.4 L586.5 108.7 L587.8 108.1 L589.2 107.4 L590.5 106.7 L591.8 106.0 L593.2 105.4 L594.5 104.7 L595.9 104.0 L597.2 103.4 L598.5 102.7 L599.9 102.0 L601.2 101.3 L602.5 100.7 L603.9 100.0 L605.2 99.3 L606.6 98.6 L607.9 97.9 L609.2 97.3 L610.6 96.6 L611.9 95.9 L613.2 95.2 L614.6 94.5 L615.9 93.9 L617.2 93.2 L618.6 92.5 L619.9 91.8 L621.2 91.1 L622.5 90.4 L623.9 89.7 L625.2 89.1 L626.5 88.4 L627.9 87.7 L629.2 87.0 L630.5 86.3 L631.8 85.6 L633.2 84.9 L634.5 84.2 L635.8 83.6 L637.2 82.9 L638.5 82.2 L639.8 81.5 L641.1 80.8 L642.5 80.1 L643.8 79.4 L645.1 78.7 L646.4 78.0 L647.8 77.3 L649.1 76.6 L650.4 75.9 L651.7 75.2 L653.1 74.5 L654.4 73.8 L655.7 73.1 L657.0 72.4 L658.4 71.7 L659.7 71.0 L661.0 70.3 L662.3 69.6 L663.7 68.9 L665.0 68.2 L666.3 67.5 L667.6 66.8 L669.0 66.1 L670.3 65.4 L671.6 64.7 L672.9 64.0 L674.2 63.3 L675.6 62.6 L676.9 61.9 L678.2 61.2 L679.5 60.5 L680.9 59.8 L682.2 59.1 L683.5 58.4 L684.8 57.7 L686.2 57.0 L687.5 56.3 L688.8 55.5 L690.1 54.8 L691.4 54.1 L692.8 53.4 L694.1 52.7 L695.4 52.0 L696.7 51.3 L698.1 50.6 L699.4 49.9 L700.7 49.2 L702.0 48.4 L703.3 47.7 L704.7 47.0 L706.0 46.3 L707.3 45.6 L708.6 44.9 L710.0 44.2 L711.3 43.5 L712.6 42.7 L713.9 42.0 L715.3 41.3 L716.6 40.6 L717.9 39.9 L719.2 39.2 L720.6 38.5 L721.9 37.7 L723.2 37.0 L724.5 36.3 L725.9 35.6 L727.2 34.9 L728.5 34.2 L729.8 33.4 L731.2 32.7 L732.5 32.0 L733.8 31.3" stroke="#3dbf78"/>
<path d="M119.1 503.6 L120.6 503.5 L122.1 503.5 L123.5 503.5 L125.0 503.4 L126.5 503.4 L128.0 503.4 L129.5 503.4 L131.0 503.4 L132.4 503.4 L133.9 503.3 L135.4 503.3 L136.9 503.3 L138.4 503.3 L139.9 503.3 L141.4 503.3 L142.9 503.3 L144.4 503.3 L146.0 503.3 L147.5 503.3 L149.0 503.3 L150.5 503.3 L152.0 503.2 L153.5 503.2 L155.0 503.2 L156.5 503.2 L158.0 503.1 L159.5 503.1 L161.1 503.0 L162.6 503.0 L164.1 502.9 L165.6 502.9 L167.1 502.8 L168.6 502.7 L170.1 502.6 L171.6 502.5 L173.1 502.4 L174.6 502.3 L176.1 502.2 L177.6 502.0 L179.1 501.9 L180.6 501.7 L182.1 501.5 L183.6 501.4 L185.1 501.2 L186.6 500.9 L188.1 500.7 L189.5 500.5 L191.0 500.2 L192.5 500.0 L194.0 499.7 L195.4 499.4 L196.9 499.1 L198.4 498.7 L199.8 498.4 L201.3 498.0 L202.7 497.6 L204.2 497.2 L205.6 496.8 L207.0 496.4 L208.5 496.0 L209.9 495.5 L211.3 495.1 L212.7 494.6 L214.1 494.1 L215.5 493.6 L216.9 493.0 L218.3 492.5 L219.7 491.9 L221.1 491.4 L222.5 490.8 L223.8 490.2 L225.2 489.6 L226.5 488.9 L227.9 488.3 L229.2 487.6 L230.6 486.9 L231.9 486.3 L233.2 485.5 L234.5 484.8 L235.8 484.1 L237.1 483.3 L238.4 482.6 L239.7 481.8 L241.0 481.0 L242.2 480.2 L243.5 479.4 L244.8 478.6 L246.0 477.7 L247.2 476.9 L248.5 476.0 L249.7 475.1 L250.9 474.3 L252.1 473.4 L253.3 472.4 L254.5 471.5 L255.7 470.6 L256.9 469.6 L258.0 468.7 L259.2 467.7 L260.3 466.7 L261.5 465.7 L262.6 464.7 L263.7 463.7 L264.9 462.7 L266.0 461.7 L267.1 460.7 L268.2 459.6 L269.3 458.6 L270.3 457.5 L271.4 456.4 L272.5 455.3 L273.5 454.3 L274.6 453.2 L275.6 452.1 L276.6 450.9 L277.6 449.8 L278.7 448.7 L279.7 447.6 L280.6 446.4 L281.6 445.3 L282.6 444.1 L283.6 443.0 L284.5 441.8 L285.5 440.6 L286.4 439.5 L287.4 438.3 L288.3 437.1 L289.2 435.9 L290.1 434.7 L291.0 433.5 L291.9 432.3 L292.8 431.1 L293.6 429.9 L294.5 428.6 L295.4 427.4 L296.2 426.2 L297.0 425.0 L297.9 423.7 L298.7 422.5 L299.5 421.2 L300.3 420.0 L301.1 418.7 L301.9 417.5 L302.7 416.2 L303.5 414.9 L304.2 413.7 L305.0 412.4 L305.8 411.1 L306.5 409.8 L307.3 408.5 L308.0 407.3 L308.7 406.0 L309.5 404.7 L310.2 403.4 L310.9 402.1 L311.6 400.8 L312.3 399.5 L313.0 398.2 L313.7 396.8 L314.4 395.5 L315.1 394.2 L315.8 392.9 L316.4 391.6 L317.1 390.2 L317.8 388.9 L318.4 387.6 L319.1 386.2 L319.7 384.9 L320.4 383.6 L321.0 382.2 L321.7 380.9 L322.3 379.5 L322.9 378.2 L323.6 376.8 L324.2 375.5 L324.8 374.1 L325.4 372.8 L326.1 371.4 L326.7 370.0 L327.3 368.7 L327.9 367.3 L328.5 365.9 L329.1 364.6 L329.7 363.2 L330.3 361.8 L330.9 360.5 L331.5 359.1 L332.1 357.7 L332.7 356.3 L333.3 355.0 L333.9 353.6 L334.5 352.2 L335.1 350.8 L335.7 349.5 L336.3 348.1 L336.9 346.7 L337.4 345.3 L338.0 343.9 L338.6 342.6 L339.2 341.2 L339.8 339.8 L340.4 338.4 L341.0 337.0 L341.6 335.6 L342.2 334.2 L342.7 332.9 L343.3 331.5 L343.9 330.1 L344.5 328.7 L345.1 327.3 L345.7 325.9 L346.3 324.5 L346.9 323.2 L347.5 321.8 L348.1 320.4 L348.7 319.0 L349.3 317.6 L349.9 316.3 L350.5 314.9 L351.2 313.5 L351.8 312.1 L352.4 310.7 L353.0 309.4 L353.6 308.0 L354.3 306.6 L354.9 305.2 L355.5 303.9 L356.2 302.5 L356.8 301.1 L357.5 299.7 L358.1 298.4 L358.8 297.0 L359.4 295.6 L360.1 294.3 L360.8 292.9 L361.4 291.5 L362.1 290.2 L362.8 288.8 L363.5 287.5 L364.1 286.1 L364.8 284.8 L365.5 283.4 L366.2 282.1 L366.9 280.7 L367.6 279.4 L368.3 278.0 L369.0 276.7 L369.7 275.4 L370.5 274.0 L371.2 272.7 L371.9 271.3 L372.6 270.0 L373.3 268.7 L374.1 267.4 L374.8 266.0 L375.5 264.7 L376.3 263.4 L377.0 262.1 L377.7 260.7 L378.5 259.4 L379.2 258.1 L379.9 256.8 L380.7 255.5 L381.4 254.2 L382.2 252.9 L382.9 251.6 L383.6 250.3 L384.4 249.0 L385.1 247.7 L385.9 246.4 L386.6 245.1 L387.4 243.8 L388.1 242.5 L388.9 241.2 L389.6 240.0 L390.3 238.7 L391.1 237.4 L391.8 236.1 L392.6 234.8 L393.3 233.6 L394.1 232.3 L394.8 231.0 L395.5 229.8 L396.3 228.5 L397.0 227.3 L397.8 226.0 L398.6 224.8 L399.3 223.5 L400.1 222.3 L400.8 221.0 L401.6 219.8 L402.4 218.5 L403.2 217.3 L404.0 216.1 L404.8 214.8 L405.6 213.6 L406.4 212.4 L407.2 211.2 L408.0 209.9 L408.9 208.7 L409.7 207.5 L410.5 206.3 L411.4 205.1 L412.3 203.9 L413.2 202.7 L414.1 201.5 L415.0 200.3 L415.9 199.1 L416.8 197.9 L417.8 196.7 L418.7 195.5 L419.7 194.3 L420.7 193.2 L421.7 192.0 L422.7 190.8 L423.7 189.7 L424.8 188.5 L425.8 187.4 L426.9 186.3 L428.0 185.2 L429.1 184.1 L430.2 183.0 L431.3 182.0 L432.4 181.0 L433.6 180.0 L434.7 179.0 L435.9 178.1 L437.1 177.1 L438.3 176.3 L439.5 175.4 L440.8 174.6 L442.0 173.8 L443.3 173.0 L444.5 172.2 L445.8 171.5 L447.1 170.8 L448.4 170.2 L449.8 169.5 L451.1 168.9 L452.4 168.3 L453.8 167.7 L455.2 167.1 L456.5 166.5 L457.9 165.9 L459.3 165.4 L460.7 164.9 L462.1 164.3 L463.5 163.8 L464.9 163.3 L466.3 162.7 L467.7 162.2 L469.1 161.7 L470.5 161.2 L471.9 160.7 L473.3 160.1 L474.7 159.6 L476.1 159.1 L477.5 158.5 L478.9 158.0 L480.3 157.4 L481.7 156.9 L483.1 156.3 L484.5 155.8 L485.8 155.2 L487.2 154.7 L488.6 154.1 L490.0 153.5 L491.4 153.0 L492.8 152.4 L494.2 151.8 L495.6 151.2 L497.0 150.7 L498.3 150.1 L499.7 149.5 L501.1 148.9 L502.5 148.3 L503.9 147.7 L505.3 147.1 L506.6 146.5 L508.0 145.9 L509.4 145.3 L510.8 144.7 L512.1 144.1 L513.5 143.5 L514.9 142.9 L516.3 142.3 L517.6 141.7 L519.0 141.1 L520.4 140.5 L521.8 139.8 L523.1 139.2 L524.5 138.6 L525.9 138.0 L527.2 137.3 L528.6 136.7 L530.0 136.1 L531.3 135.5 L532.7 134.8 L534.1 134.2 L535.4 133.6 L536.8 132.9 L538.1 132.3 L539.5 131.6 L540.9 131.0 L542.2 130.4 L543.6 129.7 L545.0 129.1 L546.3 128.4 L547.7 127.8 L549.0 127.1 L550.4 126.5 L551.7 125.8 L553.1 125.2 L554.4 124.5 L555.8 123.9 L557.2 123.2 L558.5 122.6 L559.9 121.9 L561.2 121.3 L562.6 120.6 L563.9 119.9 L565.3 119.3 L566.6 118.6 L568.0 118.0 L569.3 117.3 L570.7 116.7 L572.0 116.0 L573.4 115.3 L574.7 114.7 L576.1 114.0 L577.4 113.3 L578.7 112.7 L580.1 112.0 L581.4 111.3 L582.8 110.7 L584.1 110.0 L585.5 109.3 L586.8 108.7 L588.2 108.0 L589.5 107.3 L590.8 106.7 L592.2 106.0 L593.5 105.3 L594.9 104.6 L596.2 104.0 L597.5 103.3 L598.9 102.6 L600.2 101.9 L601.5 101.3 L602.9 100.6 L604.2 99.9 L605.6 99.2 L606.9 98.6 L608.2 97.9 L609.6 97.2 L610.9 96.5 L612.2 95.8 L613.6 95.2 L614.9 94.5 L616.2 93.8 L617.6 93.1 L618.9 92.4 L620.2 91.8 L621.6 91.1 L622.9 90.4 L624.2 89.7 L625.6 89.0 L626.9 88.3 L628.2 87.6 L629.6 87.0 L630.9 86.3 L632.2 85.6 L633.6 84.9 L634.9 84.2 L636.2 83.5 L637.5 82.8 L638.9 82.1 L640.2 81.4 L641.5 80.7 L642.9 80.1 L644.2 79.4 L645.5 78.7 L646.8 78.0 L648.2 77.3 L649.5 76.6 L650.8 75.9 L652.2 75.2 L653.5 74.5 L654.8 73.8 L656.1 73.1 L657.5 72.4 L658.8 71.7 L660.1 71.0 L661.4 70.3 L662.8 69.6 L664.1 68.9 L665.4 68.2 L666.7 67.5 L668.1 66.8 L669.4 66.1 L670.7 65.4 L672.0 64.7 L673.4 64.0 L674.7 63.3 L676.0 62.6 L677.3 61.9 L678.7 61.2 L680.0 60.5 L681.3 59.8 L682.6 59.1 L684.0 58.4 L685.3 57.7 L686.6 57.0 L687.9 56.3 L689.2 55.6 L690.6 54.9 L691.9 54.2 L693.2 53.4 L694.5 52.7 L695.9 52.0 L697.2 51.3 L698.5 50.6 L699.8 49.9 L701.2 49.2 L702.5 48.5 L703.8 47.8 L705.1 47.1 L706.5 46.4 L707.8 45.6 L709.1 44.9 L710.4 44.2 L711.7 43.5 L713.1 42.8 L714.4 42.1 L715.7 41.4 L717.0 40.7 L718.4 40.0 L719.7 39.2 L721.0 38.5 L722.3 37.8 L723.7 37.1 L725.0 36.4 L726.3 35.7 L727.6 35.0 L729.0 34.3 L730.3 33.5 L731.6 32.8 L732.9 32.1 L733.8 31.6" stroke="#b57be6"/>
<path d="M119.1 503.0 L120.6 503.0 L122.1 503.1 L123.5 503.2 L125.0 503.2 L126.5 503.3 L128.0 503.3 L129.5 503.3 L131.0 503.4 L132.5 503.4 L134.0 503.4 L135.5 503.4 L137.0 503.4 L138.5 503.4 L140.0 503.4 L141.5 503.4 L143.0 503.3 L144.5 503.3 L146.0 503.3 L147.5 503.2 L149.0 503.1 L150.5 503.1 L152.0 503.0 L153.5 502.9 L155.0 502.8 L156.5 502.7 L158.0 502.6 L159.6 502.5 L161.1 502.3 L162.6 502.2 L164.1 502.0 L165.6 501.9 L167.1 501.7 L168.6 501.5 L170.1 501.4 L171.6 501.2 L173.1 500.9 L174.6 500.7 L176.1 500.5 L177.6 500.3 L179.0 500.0 L180.5 499.7 L182.0 499.5 L183.5 499.2 L185.0 498.9 L186.4 498.6 L187.9 498.3 L189.4 497.9 L190.8 497.6 L192.3 497.2 L193.8 496.9 L195.2 496.5 L196.7 496.1 L198.1 495.7 L199.5 495.3 L201.0 494.9 L202.4 494.4 L203.8 494.0 L205.2 493.5 L206.7 493.0 L208.1 492.5 L209.5 492.0 L210.9 491.5 L212.2 491.0 L213.6 490.4 L215.0 489.9 L216.4 489.3 L217.7 488.7 L219.1 488.1 L220.5 487.5 L221.8 486.8 L223.1 486.2 L224.5 485.5 L225.8 484.9 L227.1 484.2 L228.4 483.5 L229.7 482.7 L231.0 482.0 L232.3 481.2 L233.6 480.5 L234.8 479.7 L236.1 478.9 L237.3 478.1 L238.6 477.3 L239.8 476.4 L241.0 475.6 L242.3 474.7 L243.5 473.8 L244.7 472.9 L245.9 472.0 L247.0 471.1 L248.2 470.1 L249.4 469.2 L250.5 468.2 L251.7 467.3 L252.8 466.3 L254.0 465.3 L255.1 464.3 L256.2 463.3 L257.3 462.2 L258.4 461.2 L259.5 460.2 L260.6 459.1 L261.7 458.0 L262.7 457.0 L263.8 455.9 L264.8 454.8 L265.9 453.7 L266.9 452.6 L267.9 451.4 L269.0 450.3 L270.0 449.2 L271.0 448.0 L272.0 446.9 L272.9 445.7 L273.9 444.6 L274.9 443.4 L275.8 442.2 L276.8 441.1 L277.7 439.9 L278.7 438.7 L279.6 437.5 L280.5 436.3 L281.4 435.1 L282.3 433.9 L283.2 432.6 L284.1 431.4 L285.0 430.2 L285.8 429.0 L286.7 427.7 L287.5 426.5 L288.4 425.3 L289.2 424.0 L290.1 422.8 L290.9 421.5 L291.7 420.3 L292.5 419.0 L293.3 417.8 L294.1 416.5 L294.9 415.2 L295.7 414.0 L296.4 412.7 L297.2 411.4 L298.0 410.1 L298.7 408.8 L299.5 407.5 L300.2 406.3 L301.0 405.0 L301.7 403.7 L302.4 402.4 L303.2 401.1 L303.9 399.8 L304.6 398.4 L305.3 397.1 L306.0 395.8 L306.7 394.5 L307.4 393.2 L308.1 391.9 L308.8 390.5 L309.4 389.2 L310.1 387.9 L310.8 386.6 L311.5 385.2 L312.1 383.9 L312.8 382.6 L313.4 381.2 L314.1 379.9 L314.8 378.5 L315.4 377.2 L316.1 375.8 L316.7 374.5 L317.3 373.2 L318.0 371.8 L318.6 370.5 L319.2 369.1 L319.9 367.7 L320.5 366.4 L321.1 365.0 L321.8 363.7 L322.4 362.3 L323.0 361.0 L323.6 359.6 L324.2 358.2 L324.9 356.9 L325.5 355.5 L326.1 354.1 L326.7 352.8 L327.3 351.4 L327.9 350.0 L328.5 348.7 L329.2 347.3 L329.8 345.9 L330.4 344.6 L331.0 343.2 L331.6 341.8 L332.2 340.5 L332.8 339.1 L333.4 337.7 L334.0 336.3 L334.7 335.0 L335.3 333.6 L335.9 332.2 L336.5 330.9 L337.1 329.5 L337.7 328.1 L338.4 326.8 L339.0 325.4 L339.6 324.0 L340.2 322.7 L340.9 321.3 L341.5 319.9 L342.1 318.6 L342.8 317.2 L343.4 315.8 L344.0 314.5 L344.7 313.1 L345.3 311.7 L346.0 310.4 L346.6 309.0 L347.3 307.7 L347.9 306.3 L348.6 305.0 L349.2 303.6 L349.9 302.2 L350.6 300.9 L351.3 299.5 L351.9 298.2 L352.6 296.9 L353.3 295.5 L354.0 294.2 L354.7 292.8 L355.4 291.5 L356.1 290.1 L356.8 288.8 L357.5 287.5 L358.2 286.1 L359.0 284.8 L359.7 283.5 L360.4 282.2 L361.1 280.8 L361.9 279.5 L362.6 278.2 L363.3 276.9 L364.1 275.6 L364.8 274.2 L365.6 272.9 L366.3 271.6 L367.1 270.3 L367.8 269.0 L368.6 267.7 L369.4 266.4 L370.1 265.1 L370.9 263.8 L371.6 262.5 L372.4 261.2 L373.2 259.9 L374.0 258.6 L374.7 257.3 L375.5 256.0 L376.3 254.8 L377.1 253.5 L377.8 252.2 L378.6 250.9 L379.4 249.6 L380.2 248.4 L381.0 247.1 L381.8 245.8 L382.5 244.6 L383.3 243.3 L384.1 242.0 L384.9 240.8 L385.7 239.5 L386.5 238.3 L387.3 237.0 L388.1 235.8 L388.8 234.5 L389.6 233.3 L390.4 232.0 L391.2 230.8 L392.0 229.5 L392.8 228.3 L393.6 227.1 L394.4 225.8 L395.2 224.6 L396.0 223.4 L396.8 222.2 L397.7 220.9 L398.5 219.7 L399.3 218.5 L400.1 217.3 L401.0 216.1 L401.8 214.9 L402.7 213.7 L403.5 212.4 L404.4 211.2 L405.3 210.0 L406.1 208.9 L407.0 207.7 L407.9 206.5 L408.8 205.3 L409.8 204.1 L410.7 202.9 L411.6 201.7 L412.6 200.5 L413.5 199.4 L414.5 198.2 L415.5 197.0 L416.5 195.9 L417.5 194.7 L418.5 193.5 L419.5 192.4 L420.6 191.2 L421.6 190.1 L422.7 189.0 L423.8 187.8 L424.9 186.7 L426.0 185.7 L427.1 184.6 L428.2 183.5 L429.4 182.5 L430.5 181.5 L431.7 180.5 L432.9 179.6 L434.1 178.7 L435.3 177.8 L436.5 176.9 L437.7 176.1 L439.0 175.3 L440.2 174.6 L441.5 173.8 L442.7 173.1 L444.0 172.4 L445.3 171.8 L446.6 171.1 L448.0 170.5 L449.3 169.9 L450.6 169.3 L452.0 168.7 L453.3 168.1 L454.7 167.5 L456.1 167.0 L457.4 166.4 L458.8 165.9 L460.2 165.3 L461.6 164.8 L463.0 164.3 L464.4 163.7 L465.8 163.2 L467.2 162.7 L468.6 162.1 L470.0 161.6 L471.4 161.1 L472.8 160.5 L474.2 160.0 L475.6 159.5 L477.0 158.9 L478.3 158.4 L479.7 157.8 L481.1 157.2 L482.5 156.7 L483.9 156.1 L485.3 155.6 L486.7 155.0 L488.1 154.4 L489.5 153.9 L490.9 153.3 L492.3 152.7 L493.6 152.1 L495.0 151.6 L496.4 151.0 L497.8 150.4 L499.2 149.8 L500.6 149.2 L501.9 148.6 L503.3 148.0 L504.7 147.4 L506.1 146.8 L507.5 146.2 L508.9 145.6 L510.2 145.0 L511.6 144.4 L513.0 143.8 L514.4 143.2 L515.7 142.6 L517.1 142.0 L518.5 141.4 L519.9 140.7 L521.2 140.1 L522.6 139.5 L524.0 138.9 L525.3 138.3 L526.7 137.6 L528.1 137.0 L529.5 136.4 L530.8 135.8 L532.2 135.1 L533.6 134.5 L534.9 133.9 L536.3 133.2 L537.7 132.6 L539.0 131.9 L540.4 131.3 L541.8 130.7 L543.1 130.0 L544.5 129.4 L545.8 128.7 L547.2 128.1 L548.6 127.5 L549.9 126.8 L551.3 126.2 L552.6 125.5 L554.0 124.9 L555.3 124.2 L556.7 123.6 L558.1 122.9 L559.4 122.3 L560.8 121.6 L562.1 120.9 L563.5 120.3 L564.8 119.6 L566.2 119.0 L567.5 118.3 L568.9 117.7 L570.2 117.0 L571.6 116.3 L572.9 115.7 L574.3 115.0 L575.6 114.4 L577.0 113.7 L578.3 113.0 L579.7 112.4 L581.0 111.7 L582.4 111.0 L583.7 110.4 L585.0 109.7 L586.4 109.0 L587.7 108.4 L589.1 107.7 L590.4 107.0 L591.8 106.4 L593.1 105.7 L594.4 105.0 L595.8 104.3 L597.1 103.7 L598.4 103.0 L599.8 102.3 L601.1 101.7 L602.5 101.0 L603.8 100.3 L605.1 99.6 L606.5 98.9 L607.8 98.3 L609.1 97.6 L610.5 96.9 L611.8 96.2 L613.2 95.6 L614.5 94.9 L615.8 94.2 L617.2 93.5 L618.5 92.8 L619.8 92.1 L621.2 91.5 L622.5 90.8 L623.8 90.1 L625.1 89.4 L626.5 88.7 L627.8 88.0 L629.1 87.4 L630.5 86.7 L631.8 86.0 L633.1 85.3 L634.5 84.6 L635.8 83.9 L637.1 83.2 L638.4 82.5 L639.8 81.8 L641.1 81.2 L642.4 80.5 L643.8 79.8 L645.1 79.1 L646.4 78.4 L647.7 77.7 L649.1 77.0 L650.4 76.3 L651.7 75.6 L653.0 74.9 L654.4 74.2 L655.7 73.5 L657.0 72.8 L658.4 72.1 L659.7 71.4 L661.0 70.7 L662.3 70.0 L663.7 69.3 L665.0 68.6 L666.3 68.0 L667.6 67.3 L669.0 66.6 L670.3 65.9 L671.6 65.2 L672.9 64.5 L674.3 63.8 L675.6 63.1 L676.9 62.4 L678.2 61.6 L679.6 60.9 L680.9 60.2 L682.2 59.5 L683.5 58.8 L684.8 58.1 L686.2 57.4 L687.5 56.7 L688.8 56.0 L690.1 55.3 L691.5 54.6 L692.8 53.9 L694.1 53.2 L695.4 52.5 L696.8 51.8 L698.1 51.1 L699.4 50.4 L700.7 49.7 L702.1 49.0 L703.4 48.3 L704.7 47.6 L706.0 46.8 L707.4 46.1 L708.7 45.4 L710.0 44.7 L711.3 44.0 L712.7 43.3 L714.0 42.6 L715.3 41.9 L716.7 41.2 L718.0 40.5 L719.3 39.8 L720.6 39.1 L722.0 38.3 L723.3 37.6 L724.6 36.9 L725.9 36.2 L727.3 35.5 L728.6 34.8 L729.9 34.1 L731.3 33.4 L732.6 32.7 L733.8 32.0" stroke="#fbbc05"/>
<path d="M119.2 502.5 L120.6 502.6 L122.1 502.6 L123.5 502.7 L125.0 502.7 L126.5 502.7 L127.9 502.8 L129.4 502.8 L130.9 502.8 L132.4 502.8 L133.9 502.8 L135.3 502.7 L136.8 502.7 L138.3 502.7 L139.8 502.6 L141.3 502.6 L142.8 502.5 L144.3 502.4 L145.8 502.4 L147.3 502.3 L148.8 502.2 L150.3 502.1 L151.8 501.9 L153.3 501.8 L154.9 501.7 L156.4 501.5 L157.9 501.4 L159.4 501.2 L160.9 501.0 L162.4 500.8 L163.9 500.6 L165.4 500.4 L166.9 500.2 L168.4 500.0 L169.9 499.7 L171.4 499.5 L172.9 499.2 L174.4 498.9 L175.9 498.7 L177.4 498.4 L178.9 498.1 L180.4 497.7 L181.8 497.4 L183.3 497.1 L184.8 496.7 L186.3 496.4 L187.7 496.0 L189.2 495.6 L190.7 495.2 L192.1 494.8 L193.6 494.3 L195.0 493.9 L196.5 493.5 L197.9 493.0 L199.3 492.5 L200.7 492.0 L202.2 491.5 L203.6 491.0 L205.0 490.5 L206.4 489.9 L207.8 489.4 L209.2 488.8 L210.5 488.2 L211.9 487.6 L213.3 487.0 L214.6 486.4 L216.0 485.8 L217.3 485.1 L218.7 484.4 L220.0 483.8 L221.3 483.1 L222.6 482.4 L223.9 481.6 L225.2 480.9 L226.5 480.1 L227.7 479.4 L229.0 478.6 L230.3 477.8 L231.5 477.0 L232.7 476.1 L233.9 475.3 L235.2 474.4 L236.4 473.6 L237.5 472.7 L238.7 471.8 L239.9 470.8 L241.0 469.9 L242.2 469.0 L243.3 468.0 L244.5 467.0 L245.6 466.1 L246.7 465.1 L247.8 464.1 L248.9 463.0 L250.0 462.0 L251.1 461.0 L252.1 459.9 L253.2 458.9 L254.2 457.8 L255.3 456.7 L256.3 455.6 L257.3 454.5 L258.3 453.4 L259.4 452.3 L260.3 451.2 L261.3 450.0 L262.3 448.9 L263.3 447.7 L264.3 446.6 L265.2 445.4 L266.2 444.2 L267.1 443.1 L268.0 441.9 L269.0 440.7 L269.9 439.5 L270.8 438.3 L271.7 437.1 L272.6 435.9 L273.5 434.7 L274.4 433.4 L275.3 432.2 L276.1 431.0 L277.0 429.8 L277.9 428.5 L278.7 427.3 L279.6 426.0 L280.4 424.8 L281.2 423.6 L282.1 422.3 L282.9 421.0 L283.7 419.8 L284.5 418.5 L285.3 417.2 L286.1 416.0 L286.9 414.7 L287.7 413.4 L288.5 412.1 L289.3 410.9 L290.0 409.6 L290.8 408.3 L291.6 407.0 L292.3 405.7 L293.1 404.4 L293.8 403.1 L294.6 401.8 L295.3 400.5 L296.0 399.2 L296.8 397.9 L297.5 396.5 L298.2 395.2 L298.9 393.9 L299.6 392.6 L300.4 391.3 L301.1 389.9 L301.8 388.6 L302.5 387.3 L303.2 386.0 L303.9 384.6 L304.5 383.3 L305.2 381.9 L305.9 380.6 L306.6 379.3 L307.3 377.9 L308.0 376.6 L308.6 375.2 L309.3 373.9 L310.0 372.5 L310.6 371.2 L311.3 369.9 L312.0 368.5 L312.6 367.1 L313.3 365.8 L313.9 364.4 L314.6 363.1 L315.2 361.7 L315.9 360.4 L316.5 359.0 L317.2 357.7 L317.8 356.3 L318.5 355.0 L319.1 353.6 L319.8 352.2 L320.4 350.9 L321.1 349.5 L321.7 348.2 L322.3 346.8 L323.0 345.4 L323.6 344.1 L324.3 342.7 L324.9 341.4 L325.5 340.0 L326.2 338.6 L326.8 337.3 L327.5 335.9 L328.1 334.6 L328.8 333.2 L329.4 331.9 L330.0 330.5 L330.7 329.1 L331.3 327.8 L332.0 326.4 L332.6 325.1 L333.3 323.7 L333.9 322.4 L334.6 321.0 L335.2 319.7 L335.9 318.3 L336.5 317.0 L337.2 315.6 L337.8 314.3 L338.5 313.0 L339.1 311.6 L339.8 310.3 L340.5 308.9 L341.1 307.6 L341.8 306.3 L342.5 304.9 L343.2 303.6 L343.8 302.3 L344.5 301.0 L345.2 299.6 L345.9 298.3 L346.6 297.0 L347.3 295.7 L348.0 294.4 L348.7 293.0 L349.4 291.7 L350.1 290.4 L350.8 289.1 L351.5 287.8 L352.2 286.5 L352.9 285.2 L353.6 283.9 L354.4 282.6 L355.1 281.3 L355.8 280.0 L356.6 278.7 L357.3 277.5 L358.0 276.2 L358.8 274.9 L359.5 273.6 L360.3 272.3 L361.0 271.0 L361.8 269.8 L362.6 268.5 L363.3 267.2 L364.1 265.9 L364.9 264.7 L365.6 263.4 L366.4 262.1 L367.2 260.8 L368.0 259.6 L368.8 258.3 L369.6 257.0 L370.4 255.8 L371.2 254.5 L372.0 253.2 L372.8 252.0 L373.6 250.7 L374.4 249.4 L375.2 248.2 L376.1 246.9 L376.9 245.7 L377.7 244.4 L378.6 243.1 L379.4 241.9 L380.2 240.6 L381.1 239.4 L381.9 238.1 L382.8 236.8 L383.6 235.6 L384.5 234.3 L385.4 233.1 L386.2 231.8 L387.1 230.6 L388.0 229.3 L388.9 228.1 L389.8 226.8 L390.7 225.6 L391.6 224.3 L392.5 223.1 L393.4 221.8 L394.3 220.6 L395.2 219.4 L396.1 218.2 L397.0 216.9 L397.9 215.7 L398.9 214.5 L399.8 213.3 L400.7 212.1 L401.7 210.9 L402.6 209.7 L403.5 208.5 L404.5 207.3 L405.5 206.2 L406.4 205.0 L407.4 203.8 L408.3 202.7 L409.3 201.5 L410.3 200.4 L411.3 199.3 L412.3 198.2 L413.3 197.0 L414.3 195.9 L415.2 194.9 L416.3 193.8 L417.3 192.7 L418.3 191.6 L419.3 190.6 L420.3 189.5 L421.4 188.5 L422.4 187.5 L423.5 186.5 L424.5 185.5 L425.6 184.6 L426.7 183.6 L427.8 182.7 L429.0 181.8 L430.1 180.9 L431.3 180.0 L432.4 179.1 L433.6 178.3 L434.9 177.4 L436.1 176.6 L437.3 175.9 L438.6 175.1 L439.9 174.4 L441.2 173.7 L442.6 173.0 L443.9 172.3 L445.2 171.6 L446.6 171.0 L448.0 170.3 L449.3 169.7 L450.7 169.1 L452.1 168.5 L453.5 168.0 L454.9 167.4 L456.3 166.8 L457.7 166.3 L459.1 165.7 L460.5 165.2 L462.0 164.7 L463.4 164.1 L464.8 163.6 L466.2 163.1 L467.6 162.6 L469.0 162.0 L470.5 161.5 L471.9 161.0 L473.3 160.4 L474.7 159.9 L476.1 159.4 L477.5 158.8 L478.9 158.3 L480.3 157.7 L481.7 157.2 L483.1 156.6 L484.5 156.0 L485.9 155.5 L487.3 154.9 L488.7 154.3 L490.1 153.8 L491.5 153.2 L492.9 152.6 L494.3 152.1 L495.6 151.5 L497.0 150.9 L498.4 150.3 L499.8 149.7 L501.2 149.1 L502.6 148.5 L503.9 148.0 L505.3 147.4 L506.7 146.8 L508.1 146.2 L509.4 145.6 L510.8 145.0 L512.2 144.4 L513.6 143.7 L514.9 143.1 L516.3 142.5 L517.7 141.9 L519.0 141.3 L520.4 140.7 L521.8 140.1 L523.1 139.4 L524.5 138.8 L525.8 138.2 L527.2 137.6 L528.6 136.9 L529.9 136.3 L531.3 135.7 L532.6 135.1 L534.0 134.4 L535.4 133.8 L536.7 133.2 L538.1 132.5 L539.4 131.9 L540.8 131.2 L542.1 130.6 L543.5 130.0 L544.8 129.3 L546.2 128.7 L547.5 128.0 L548.9 127.4 L550.2 126.7 L551.6 126.1 L552.9 125.4 L554.3 124.8 L555.6 124.1 L557.0 123.5 L558.3 122.8 L559.7 122.2 L561.0 121.5 L562.4 120.9 L563.7 120.2 L565.1 119.6 L566.4 118.9 L567.8 118.2 L569.1 117.6 L570.4 116.9 L571.8 116.3 L573.1 115.6 L574.5 114.9 L575.8 114.3 L577.2 113.6 L578.5 113.0 L579.9 112.3 L581.2 111.6 L582.6 111.0 L583.9 110.3 L585.2 109.6 L586.6 109.0 L587.9 108.3 L589.3 107.6 L590.6 107.0 L591.9 106.3 L593.3 105.6 L594.6 104.9 L596.0 104.3 L597.3 103.6 L598.7 102.9 L600.0 102.3 L601.3 101.6 L602.7 100.9 L604.0 100.2 L605.4 99.6 L606.7 98.9 L608.0 98.2 L609.4 97.5 L610.7 96.8 L612.0 96.2 L613.4 95.5 L614.7 94.8 L616.1 94.1 L617.4 93.4 L618.7 92.8 L620.1 92.1 L621.4 91.4 L622.7 90.7 L624.1 90.0 L625.4 89.4 L626.8 88.7 L628.1 88.0 L629.4 87.3 L630.8 86.6 L632.1 85.9 L633.4 85.2 L634.8 84.5 L636.1 83.9 L637.4 83.2 L638.8 82.5 L640.1 81.8 L641.4 81.1 L642.8 80.4 L644.1 79.7 L645.4 79.0 L646.8 78.3 L648.1 77.6 L649.4 77.0 L650.8 76.3 L652.1 75.6 L653.4 74.9 L654.8 74.2 L656.1 73.5 L657.4 72.8 L658.7 72.1 L660.1 71.4 L661.4 70.7 L662.7 70.0 L664.1 69.3 L665.4 68.6 L666.7 67.9 L668.0 67.2 L669.4 66.5 L670.7 65.8 L672.0 65.1 L673.4 64.4 L674.7 63.7 L676.0 63.0 L677.3 62.3 L678.7 61.6 L680.0 60.9 L681.3 60.2 L682.7 59.5 L684.0 58.8 L685.3 58.1 L686.6 57.4 L688.0 56.7 L689.3 56.0 L690.6 55.3 L691.9 54.6 L693.3 53.9 L694.6 53.2 L695.9 52.5 L697.2 51.8 L698.6 51.1 L699.9 50.4 L701.2 49.7 L702.5 49.0 L703.8 48.3 L705.2 47.6 L706.5 46.8 L707.8 46.1 L709.1 45.4 L710.5 44.7 L711.8 44.0 L713.1 43.3 L714.4 42.6 L715.7 41.9 L717.1 41.2 L718.4 40.5 L719.7 39.8 L721.0 39.1 L722.3 38.4 L723.7 37.7 L725.0 36.9 L726.3 36.2 L727.6 35.5 L728.9 34.8 L730.3 34.1 L731.6 33.4 L732.9 32.7 L733.7 32.2" stroke="#7a4a44"/>
<path d="M119.1 502.1 L120.6 502.1 L122.1 502.1 L123.5 502.1 L125.0 502.1 L126.5 502.0 L128.0 502.0 L129.5 502.0 L131.0 501.9 L132.5 501.9 L134.0 501.8 L135.5 501.7 L137.0 501.7 L138.5 501.6 L140.0 501.5 L141.5 501.4 L143.0 501.3 L144.5 501.2 L146.0 501.0 L147.5 500.9 L149.0 500.8 L150.5 500.6 L152.0 500.5 L153.5 500.3 L155.0 500.1 L156.5 499.9 L158.0 499.7 L159.5 499.5 L160.9 499.3 L162.4 499.1 L163.9 498.9 L165.4 498.6 L166.9 498.4 L168.4 498.1 L169.9 497.8 L171.4 497.5 L172.8 497.2 L174.3 496.9 L175.8 496.6 L177.3 496.3 L178.7 495.9 L180.2 495.6 L181.7 495.2 L183.1 494.8 L184.6 494.4 L186.0 494.0 L187.5 493.6 L188.9 493.2 L190.3 492.7 L191.8 492.3 L193.2 491.8 L194.6 491.3 L196.0 490.9 L197.5 490.3 L198.9 489.8 L200.3 489.3 L201.7 488.7 L203.0 488.2 L204.4 487.6 L205.8 487.0 L207.2 486.4 L208.5 485.8 L209.9 485.2 L211.2 484.5 L212.6 483.8 L213.9 483.2 L215.2 482.5 L216.5 481.8 L217.8 481.0 L219.1 480.3 L220.4 479.5 L221.7 478.8 L222.9 478.0 L224.2 477.2 L225.4 476.3 L226.7 475.5 L227.9 474.6 L229.1 473.8 L230.3 472.9 L231.5 472.0 L232.7 471.0 L233.8 470.1 L235.0 469.1 L236.1 468.2 L237.2 467.2 L238.4 466.2 L239.5 465.2 L240.6 464.1 L241.7 463.1 L242.7 462.0 L243.8 461.0 L244.9 459.9 L245.9 458.8 L247.0 457.7 L248.0 456.6 L249.0 455.5 L250.0 454.4 L251.0 453.2 L252.0 452.1 L253.0 450.9 L254.0 449.8 L254.9 448.6 L255.9 447.5 L256.8 446.3 L257.8 445.1 L258.7 444.0 L259.6 442.8 L260.5 441.6 L261.4 440.4 L262.4 439.2 L263.2 438.0 L264.1 436.8 L265.0 435.6 L265.9 434.3 L266.8 433.1 L267.6 431.9 L268.5 430.7 L269.3 429.4 L270.2 428.2 L271.0 426.9 L271.8 425.7 L272.6 424.4 L273.5 423.2 L274.3 421.9 L275.1 420.6 L275.9 419.4 L276.7 418.1 L277.5 416.8 L278.3 415.6 L279.1 414.3 L279.8 413.0 L280.6 411.7 L281.4 410.4 L282.2 409.1 L282.9 407.8 L283.7 406.6 L284.4 405.3 L285.2 404.0 L285.9 402.7 L286.7 401.4 L287.4 400.0 L288.2 398.7 L288.9 397.4 L289.7 396.1 L290.4 394.8 L291.1 393.5 L291.9 392.2 L292.6 390.9 L293.3 389.6 L294.0 388.2 L294.8 386.9 L295.5 385.6 L296.2 384.3 L296.9 382.9 L297.6 381.6 L298.3 380.3 L299.0 379.0 L299.7 377.6 L300.4 376.3 L301.1 375.0 L301.8 373.7 L302.5 372.3 L303.2 371.0 L303.9 369.7 L304.6 368.3 L305.3 367.0 L306.0 365.7 L306.7 364.3 L307.4 363.0 L308.0 361.6 L308.7 360.3 L309.4 359.0 L310.1 357.6 L310.8 356.3 L311.4 355.0 L312.1 353.6 L312.8 352.3 L313.4 350.9 L314.1 349.6 L314.8 348.3 L315.4 346.9 L316.1 345.6 L316.7 344.2 L317.4 342.9 L318.0 341.6 L318.7 340.2 L319.4 338.9 L320.0 337.5 L320.7 336.2 L321.3 334.9 L322.0 333.5 L322.6 332.2 L323.2 330.8 L323.9 329.5 L324.5 328.2 L325.2 326.8 L325.8 325.5 L326.5 324.1 L327.1 322.8 L327.7 321.5 L328.4 320.1 L329.0 318.8 L329.7 317.5 L330.3 316.1 L331.0 314.8 L331.6 313.5 L332.3 312.1 L332.9 310.8 L333.6 309.5 L334.2 308.1 L334.9 306.8 L335.6 305.5 L336.2 304.2 L336.9 302.8 L337.6 301.5 L338.3 300.2 L339.0 298.9 L339.7 297.6 L340.4 296.2 L341.1 294.9 L341.9 293.6 L342.6 292.3 L343.3 291.0 L344.1 289.7 L344.8 288.4 L345.6 287.1 L346.3 285.7 L347.1 284.4 L347.9 283.1 L348.6 281.8 L349.4 280.5 L350.2 279.2 L351.0 277.9 L351.8 276.7 L352.6 275.4 L353.4 274.1 L354.2 272.8 L355.0 271.5 L355.8 270.2 L356.7 268.9 L357.5 267.6 L358.3 266.4 L359.1 265.1 L360.0 263.8 L360.8 262.6 L361.7 261.3 L362.5 260.0 L363.3 258.8 L364.2 257.5 L365.0 256.2 L365.9 255.0 L366.7 253.7 L367.6 252.5 L368.5 251.2 L369.3 250.0 L370.2 248.7 L371.0 247.5 L371.9 246.3 L372.8 245.0 L373.7 243.8 L374.5 242.6 L375.4 241.3 L376.3 240.1 L377.2 238.9 L378.0 237.7 L378.9 236.4 L379.8 235.2 L380.7 234.0 L381.6 232.8 L382.5 231.6 L383.4 230.4 L384.2 229.2 L385.1 228.0 L386.0 226.8 L386.9 225.6 L387.8 224.4 L388.7 223.3 L389.6 222.1 L390.5 220.9 L391.4 219.7 L392.3 218.5 L393.2 217.4 L394.1 216.2 L395.1 215.1 L396.0 213.9 L396.9 212.7 L397.8 211.6 L398.7 210.4 L399.6 209.3 L400.5 208.2 L401.5 207.0 L402.4 205.9 L403.3 204.7 L404.3 203.6 L405.2 202.5 L406.2 201.4 L407.1 200.3 L408.1 199.1 L409.1 198.0 L410.1 196.9 L411.1 195.8 L412.1 194.7 L413.1 193.6 L414.2 192.5 L415.2 191.4 L416.3 190.4 L417.4 189.3 L418.5 188.2 L419.6 187.1 L420.7 186.1 L421.9 185.0 L423.0 184.0 L424.2 182.9 L425.4 181.9 L426.6 181.0 L427.8 180.0 L429.1 179.1 L430.3 178.2 L431.6 177.4 L432.8 176.6 L434.1 175.9 L435.4 175.2 L436.7 174.6 L438.0 174.0 L439.4 173.5 L440.7 173.0 L442.1 172.6 L443.4 172.2 L444.8 171.7 L446.2 171.3 L447.6 170.8 L449.0 170.3 L450.3 169.8 L451.7 169.3 L453.1 168.7 L454.5 168.2 L455.9 167.7 L457.3 167.1 L458.7 166.6 L460.1 166.0 L461.5 165.5 L462.9 164.9 L464.3 164.4 L465.7 163.8 L467.1 163.3 L468.5 162.7 L469.9 162.2 L471.3 161.6 L472.7 161.0 L474.1 160.5 L475.5 159.9 L476.9 159.3 L478.2 158.8 L479.6 158.2 L481.0 157.6 L482.4 157.0 L483.8 156.5 L485.2 155.9 L486.6 155.3 L488.0 154.7 L489.4 154.1 L490.7 153.6 L492.1 153.0 L493.5 152.4 L494.9 151.8 L496.3 151.2 L497.7 150.6 L499.1 150.0 L500.4 149.4 L501.8 148.8 L503.2 148.2 L504.6 147.6 L506.0 147.0 L507.3 146.4 L508.7 145.8 L510.1 145.2 L511.5 144.6 L512.9 144.0 L514.2 143.4 L515.6 142.8 L517.0 142.1 L518.4 141.5 L519.7 140.9 L521.1 140.3 L522.5 139.7 L523.8 139.1 L525.2 138.4 L526.6 137.8 L528.0 137.2 L529.3 136.6 L530.7 135.9 L532.1 135.3 L533.4 134.7 L534.8 134.0 L536.2 133.4 L537.5 132.8 L538.9 132.2 L540.2 131.5 L541.6 130.9 L543.0 130.3 L544.3 129.6 L545.7 129.0 L547.1 128.3 L548.4 127.7 L549.8 127.1 L551.1 126.4 L552.5 125.8 L553.8 125.1 L555.2 124.5 L556.5 123.8 L557.9 123.2 L559.3 122.5 L560.6 121.9 L562.0 121.2 L563.3 120.6 L564.7 119.9 L566.0 119.3 L567.4 118.6 L568.7 118.0 L570.1 117.3 L571.4 116.7 L572.8 116.0 L574.1 115.4 L575.5 114.7 L576.8 114.0 L578.1 113.4 L579.5 112.7 L580.8 112.1 L582.2 111.4 L583.5 110.7 L584.9 110.1 L586.2 109.4 L587.6 108.7 L588.9 108.1 L590.2 107.4 L591.6 106.7 L592.9 106.1 L594.3 105.4 L595.6 104.7 L596.9 104.1 L598.3 103.4 L599.6 102.7 L601.0 102.1 L602.3 101.4 L603.6 100.7 L605.0 100.0 L606.3 99.4 L607.6 98.7 L609.0 98.0 L610.3 97.3 L611.7 96.7 L613.0 96.0 L614.3 95.3 L615.7 94.6 L617.0 93.9 L618.3 93.3 L619.7 92.6 L621.0 91.9 L622.3 91.2 L623.7 90.5 L625.0 89.8 L626.3 89.2 L627.7 88.5 L629.0 87.8 L630.3 87.1 L631.7 86.4 L633.0 85.7 L634.3 85.1 L635.6 84.4 L637.0 83.7 L638.3 83.0 L639.6 82.3 L641.0 81.6 L642.3 80.9 L643.6 80.2 L645.0 79.6 L646.3 78.9 L647.6 78.2 L649.0 77.5 L650.3 76.8 L651.6 76.1 L652.9 75.4 L654.3 74.7 L655.6 74.0 L656.9 73.3 L658.3 72.6 L659.6 71.9 L660.9 71.2 L662.2 70.6 L663.6 69.9 L664.9 69.2 L666.2 68.5 L667.6 67.8 L668.9 67.1 L670.2 66.4 L671.5 65.7 L672.9 65.0 L674.2 64.3 L675.5 63.6 L676.9 62.9 L678.2 62.2 L679.5 61.5 L680.9 60.8 L682.2 60.1 L683.5 59.4 L684.8 58.7 L686.2 58.0 L687.5 57.3 L688.8 56.6 L690.2 55.9 L691.5 55.2 L692.8 54.5 L694.2 53.8 L695.5 53.1 L696.8 52.5 L698.1 51.8 L699.5 51.1 L700.8 50.4 L702.1 49.7 L703.5 49.0 L704.8 48.3 L706.1 47.6 L707.5 46.9 L708.8 46.2 L710.1 45.5 L711.5 44.8 L712.8 44.1 L714.1 43.4 L715.5 42.7 L716.8 42.0 L717.5 41.6" stroke="#19c3c3"/>
</g>
<g stroke="#111" stroke-width="2.3" fill="none">
<line x1="436.6" x2="436.6" y1="13.1" y2="36.9"/>
<line x1="436.6" x2="436.6" y1="60.6" y2="84.4"/>
<line x1="436.6" x2="436.6" y1="108.1" y2="131.9"/>
<line x1="436.6" x2="436.6" y1="155.7" y2="179.5"/>
<line x1="436.6" x2="436.6" y1="203.2" y2="227.0"/>
<line x1="436.6" x2="436.6" y1="250.7" y2="274.5"/>
<line x1="436.6" x2="436.6" y1="298.2" y2="322.0"/>
<line x1="436.6" x2="436.6" y1="345.7" y2="369.5"/>
<line x1="436.6" x2="436.6" y1="393.3" y2="417.1"/>
<line x1="436.6" x2="436.6" y1="440.8" y2="464.6"/>
<line x1="436.6" x2="436.6" y1="488.3" y2="512.1"/>
<line x1="436.6" x2="436.6" y1="535.8" y2="559.6"/>
<line x1="316.9" x2="341.2" y1="214.9" y2="214.9"/>
<line x1="364.6" x2="389.0" y1="214.9" y2="214.9"/>
<line x1="412.2" x2="433.3" y1="214.9" y2="214.9"/>
</g>
<g stroke="#111" stroke-width="2.5" fill="none" stroke-linecap="butt">
<path d="M117.8 5.8 H111.75 V575.35 H736.4 V562.1"/>
<line x1="111.75" x2="124.7" y1="448.8" y2="448.8"/>
<line x1="111.75" x2="124.7" y1="322.2" y2="322.2"/>
<line x1="111.75" x2="124.7" y1="195.7" y2="195.7"/>
<line x1="111.75" x2="124.7" y1="69.1" y2="69.1"/>
<line x1="111.75" x2="117.8" y1="512.1" y2="512.1"/>
<line x1="111.75" x2="117.8" y1="385.5" y2="385.5"/>
<line x1="111.75" x2="117.8" y1="258.9" y2="258.9"/>
<line x1="111.75" x2="117.8" y1="132.4" y2="132.4"/>
<line y1="575.35" y2="562.1" x1="319.4" x2="319.4"/>
<line y1="575.35" y2="562.1" x1="528.4" x2="528.4"/>
<line y1="575.35" y2="568.3" x1="215.6" x2="215.6"/>
<line y1="575.35" y2="568.3" x1="423.9" x2="423.9"/>
<line y1="575.35" y2="568.3" x1="632.4" x2="632.4"/>
</g>
<g>
<text transform="translate(99.17 611.40) scale(1.0250 1)" font-size="32.2" >0</text>
<text transform="translate(300.79 611.40) scale(1.0059 1)" font-size="32.2" >50</text>
<text transform="translate(503.24 611.40) scale(0.9804 1)" font-size="32.2" >100</text>
<text transform="translate(710.94 611.40) scale(0.9804 1)" font-size="32.2" >150</text>
<text transform="translate(79.98 584.35) scale(1.0187 1)" font-size="32.2" >0</text>
<text transform="translate(53.25 457.77) scale(0.9988 1)" font-size="32.2" >0.2</text>
<text transform="translate(53.25 331.19) scale(0.9988 1)" font-size="32.2" >0.4</text>
<text transform="translate(53.25 204.61) scale(0.9988 1)" font-size="32.2" >0.6</text>
<text transform="translate(53.25 78.03) scale(0.9988 1)" font-size="32.2" >0.8</text>
<text transform="translate(145.25 44.90) scale(0.9735 1)" font-size="32.2" >Run 2</text>
<text transform="translate(312.00 658.10) scale(0.9872 1)" font-size="32.2" >Temperature</text>
<text transform="translate(501.10 658.10) scale(0.9024 1)" font-size="32.2" >(K)</text>
<text transform="translate(27.4 392.10) rotate(-90) translate(-1.99 0) scale(0.9929 1)" font-size="32.2" >Resistance</text>
<text transform="translate(27.4 392.10) rotate(-90) translate(165.95 0) scale(0.9500 1)" font-size="32.2" >(</text>
<text transform="translate(27.4 392.10) rotate(-90) translate(177.00 0) scale(0.8522 1)" font-size="32.2" font-style="italic" style="font-family:'Liberation Serif','DejaVu Serif',serif">Ω</text>
<text transform="translate(27.4 392.10) rotate(-90) translate(197.20 0) scale(0.9500 1)" font-size="32.2" >)</text>
<text transform="translate(672.58 281.00) scale(1.0250 1)" font-size="32.2" >0</text>
<text transform="translate(672.19 319.50) scale(1.0125 1)" font-size="32.2" >2</text>
<text transform="translate(673.40 354.30) scale(0.9278 1)" font-size="32.2" >4</text>
<text transform="translate(672.73 393.40) scale(0.9750 1)" font-size="32.2" >6</text>
<text transform="translate(672.73 432.90) scale(0.9750 1)" font-size="32.2" >8</text>
<text transform="translate(664.97 465.90) scale(0.9667 1)" font-size="32.2" >10</text>
<text transform="translate(664.78 503.40) scale(0.9576 1)" font-size="32.2" >12</text>
<text transform="translate(664.81 538.50) scale(0.9426 1)" font-size="32.2" >14</text>
<text transform="translate(604.25 235.40) scale(1.0471 1)" font-size="28" font-style="italic">μ</text>
<text transform="translate(624.70 246.90) scale(0.8769 1)" font-size="24.5" >0</text>
<text transform="translate(638.80 235.30) scale(1.0000 1)" font-size="32.2" font-style="italic">H</text>
<text transform="translate(670.05 235.30) scale(0.9538 1)" font-size="32.2" >(T)</text>
<text transform="translate(454.06 53.00) scale(0.9200 1)" font-size="32.2" font-style="italic">T</text>
<text transform="translate(470.00 65.20) scale(1.0273 1)" font-size="22.5" >c</text>
<text transform="translate(474.70 38.70) scale(1.0107 1)" font-size="22.5" >onset</text>
<text transform="translate(526.85 54.70) scale(0.9529 0.74)" font-size="32.2" >=</text>
<text transform="translate(555.02 53.40) scale(0.9824 1)" font-size="32.2" >78</text>
<text transform="translate(599.60 53.40) scale(0.9500 1)" font-size="32.2" >K</text>
</g>
<g stroke-width="2.4" fill="none">
<line x1="604.8" x2="651" y1="271.4" y2="271.4" stroke="#2c2c2c"/>
<line x1="604.8" x2="651" y1="307.9" y2="307.9" stroke="#dc1e1e"/>
<line x1="604.8" x2="651" y1="344.5" y2="344.5" stroke="#1f62e0"/>
<line x1="604.8" x2="651" y1="381.0" y2="381.0" stroke="#3dbf78"/>
<line x1="604.8" x2="651" y1="417.6" y2="417.6" stroke="#b57be6"/>
<line x1="604.8" x2="651" y1="454.1" y2="454.1" stroke="#fbbc05"/>
<line x1="604.8" x2="651" y1="490.7" y2="490.7" stroke="#7a4a44"/>
<line x1="604.8" x2="651" y1="527.2" y2="527.2" stroke="#19c3c3"/>
</g>
</svg></body></html>
